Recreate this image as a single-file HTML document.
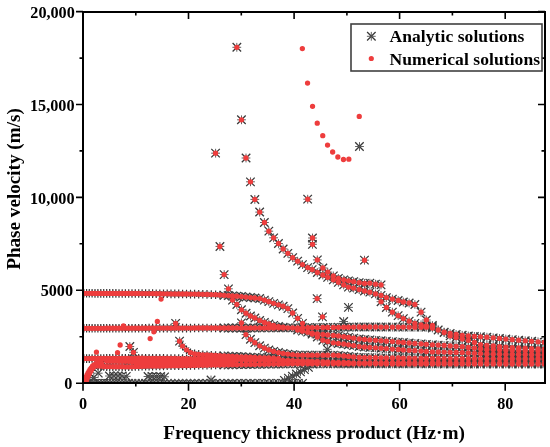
<!DOCTYPE html>
<html><head><meta charset="utf-8"><style>
html,body{margin:0;padding:0;background:#fff;width:550px;height:447px;overflow:hidden}
svg{display:block}
</style></head><body>
<svg width="550" height="447" viewBox="0 0 550 447"><defs><clipPath id="c"><rect x="84" y="13" width="460" height="370"/></clipPath></defs><g clip-path="url(#c)"><path d="M219.9 291.1l8.5 8.5M219.9 299.6l8.5 -8.5M224.2 291.4l8.5 8.5M224.2 299.9l8.5 -8.5M228.3 291.6l8.5 8.5M228.3 300.1l8.5 -8.5M232.6 291.9l8.5 8.5M232.6 300.4l8.5 -8.5M237.2 292.3l8.5 8.5M237.2 300.8l8.5 -8.5M241.8 292.8l8.5 8.5M241.8 301.3l8.5 -8.5M246.2 293.3l8.5 8.5M246.2 301.8l8.5 -8.5M250.6 293.8l8.5 8.5M250.6 302.3l8.5 -8.5M255.4 294.3l8.5 8.5M255.4 302.8l8.5 -8.5M260.1 295.9l8.5 8.5M260.1 304.4l8.5 -8.5M264.6 297.4l8.5 8.5M264.6 305.9l8.5 -8.5M269.4 299.1l8.5 8.5M269.4 307.6l8.5 -8.5M274.2 300.6l8.5 8.5M274.2 309.1l8.5 -8.5M278.9 302.0l8.5 8.5M278.9 310.5l8.5 -8.5M283.6 304.4l8.5 8.5M283.6 312.9l8.5 -8.5M288.4 308.8l8.5 8.5M288.4 317.3l8.5 -8.5M293.4 314.1l8.5 8.5M293.4 322.6l8.5 -8.5M298.2 319.1l8.5 8.5M298.2 327.6l8.5 -8.5M219.9 323.7l8.5 8.5M219.9 332.2l8.5 -8.5M224.2 323.7l8.5 8.5M224.2 332.2l8.5 -8.5M228.3 323.7l8.5 8.5M228.3 332.2l8.5 -8.5M232.6 323.7l8.5 8.5M232.6 332.2l8.5 -8.5M237.2 323.7l8.5 8.5M237.2 332.2l8.5 -8.5M241.8 323.7l8.5 8.5M241.8 332.2l8.5 -8.5M246.2 323.7l8.5 8.5M246.2 332.2l8.5 -8.5M250.6 323.7l8.5 8.5M250.6 332.2l8.5 -8.5M255.4 323.6l8.5 8.5M255.4 332.1l8.5 -8.5M260.1 323.6l8.5 8.5M260.1 332.1l8.5 -8.5M264.6 323.6l8.5 8.5M264.6 332.1l8.5 -8.5M269.4 323.6l8.5 8.5M269.4 332.1l8.5 -8.5M274.2 323.6l8.5 8.5M274.2 332.1l8.5 -8.5M278.9 323.6l8.5 8.5M278.9 332.1l8.5 -8.5M283.6 323.6l8.5 8.5M283.6 332.1l8.5 -8.5M288.4 323.6l8.5 8.5M288.4 332.1l8.5 -8.5M293.4 323.6l8.5 8.5M293.4 332.1l8.5 -8.5M298.2 323.5l8.5 8.5M298.2 332.0l8.5 -8.5M303.4 323.4l8.5 8.5M303.4 331.9l8.5 -8.5M307.9 323.4l8.5 8.5M307.9 331.9l8.5 -8.5M313.1 323.3l8.5 8.5M313.1 331.8l8.5 -8.5M318.6 323.2l8.5 8.5M318.6 331.7l8.5 -8.5M323.4 323.2l8.5 8.5M323.4 331.7l8.5 -8.5M329.1 323.1l8.5 8.5M329.1 331.6l8.5 -8.5M334.1 323.0l8.5 8.5M334.1 331.5l8.5 -8.5M339.4 323.0l8.5 8.5M339.4 331.5l8.5 -8.5M344.2 322.9l8.5 8.5M344.2 331.4l8.5 -8.5M349.4 322.8l8.5 8.5M349.4 331.3l8.5 -8.5M354.9 322.8l8.5 8.5M354.9 331.3l8.5 -8.5M360.2 322.8l8.5 8.5M360.2 331.3l8.5 -8.5M365.6 322.8l8.5 8.5M365.6 331.3l8.5 -8.5M371.2 322.8l8.5 8.5M371.2 331.3l8.5 -8.5M376.8 322.8l8.5 8.5M376.8 331.3l8.5 -8.5M382.1 322.8l8.5 8.5M382.1 331.3l8.5 -8.5M388.1 322.8l8.5 8.5M388.1 331.3l8.5 -8.5M393.9 322.9l8.5 8.5M393.9 331.4l8.5 -8.5M399.1 322.9l8.5 8.5M399.1 331.4l8.5 -8.5M404.9 322.9l8.5 8.5M404.9 331.4l8.5 -8.5M410.6 322.9l8.5 8.5M410.6 331.4l8.5 -8.5M416.8 322.9l8.5 8.5M416.8 331.4l8.5 -8.5M422.1 322.9l8.5 8.5M422.1 331.4l8.5 -8.5M428.1 323.8l8.5 8.5M428.1 332.3l8.5 -8.5M433.9 325.8l8.5 8.5M433.9 334.3l8.5 -8.5M439.9 327.9l8.5 8.5M439.9 336.4l8.5 -8.5M445.9 329.3l8.5 8.5M445.9 337.8l8.5 -8.5M451.9 330.3l8.5 8.5M451.9 338.8l8.5 -8.5M457.9 331.0l8.5 8.5M457.9 339.5l8.5 -8.5M464.1 331.8l8.5 8.5M464.1 340.3l8.5 -8.5M470.1 332.2l8.5 8.5M470.1 340.7l8.5 -8.5M476.2 332.5l8.5 8.5M476.2 341.0l8.5 -8.5M482.6 332.9l8.5 8.5M482.6 341.4l8.5 -8.5M488.9 333.6l8.5 8.5M488.9 342.1l8.5 -8.5M495.2 334.2l8.5 8.5M495.2 342.7l8.5 -8.5M501.6 334.8l8.5 8.5M501.6 343.3l8.5 -8.5M508.0 335.4l8.5 8.5M508.0 343.9l8.5 -8.5M514.4 336.0l8.5 8.5M514.4 344.5l8.5 -8.5M521.0 336.5l8.5 8.5M521.0 345.0l8.5 -8.5M527.4 337.0l8.5 8.5M527.4 345.5l8.5 -8.5M533.8 337.6l8.5 8.5M533.8 346.1l8.5 -8.5M540.0 338.1l8.5 8.5M540.0 346.6l8.5 -8.5M228.3 295.9l8.5 8.5M228.3 304.4l8.5 -8.5M232.6 300.2l8.5 8.5M232.6 308.7l8.5 -8.5M237.2 305.5l8.5 8.5M237.2 314.0l8.5 -8.5M241.8 309.0l8.5 8.5M241.8 317.5l8.5 -8.5M246.2 311.8l8.5 8.5M246.2 320.2l8.5 -8.5M250.6 313.7l8.5 8.5M250.6 322.2l8.5 -8.5M255.4 316.2l8.5 8.5M255.4 324.7l8.5 -8.5M260.1 318.1l8.5 8.5M260.1 326.6l8.5 -8.5M264.6 319.8l8.5 8.5M264.6 328.3l8.5 -8.5M269.4 321.1l8.5 8.5M269.4 329.6l8.5 -8.5M274.2 322.3l8.5 8.5M274.2 330.8l8.5 -8.5M278.9 323.0l8.5 8.5M278.9 331.5l8.5 -8.5M241.8 330.4l8.5 8.5M241.8 338.9l8.5 -8.5M246.2 335.0l8.5 8.5M246.2 343.5l8.5 -8.5M250.6 338.4l8.5 8.5M250.6 346.9l8.5 -8.5M255.4 341.5l8.5 8.5M255.4 350.0l8.5 -8.5M260.1 343.9l8.5 8.5M260.1 352.4l8.5 -8.5M264.6 345.7l8.5 8.5M264.6 354.2l8.5 -8.5M269.4 347.1l8.5 8.5M269.4 355.6l8.5 -8.5M274.2 348.3l8.5 8.5M274.2 356.8l8.5 -8.5M278.9 349.2l8.5 8.5M278.9 357.7l8.5 -8.5M283.6 349.9l8.5 8.5M283.6 358.4l8.5 -8.5M288.4 350.4l8.5 8.5M288.4 358.9l8.5 -8.5M293.4 350.9l8.5 8.5M293.4 359.4l8.5 -8.5M298.2 350.9l8.5 8.5M298.2 359.4l8.5 -8.5M303.4 350.9l8.5 8.5M303.4 359.4l8.5 -8.5M307.9 350.9l8.5 8.5M307.9 359.4l8.5 -8.5M313.1 350.9l8.5 8.5M313.1 359.4l8.5 -8.5M318.6 350.9l8.5 8.5M318.6 359.4l8.5 -8.5M323.4 350.9l8.5 8.5M323.4 359.4l8.5 -8.5M329.1 350.9l8.5 8.5M329.1 359.4l8.5 -8.5M334.1 351.3l8.5 8.5M334.1 359.8l8.5 -8.5M339.4 351.8l8.5 8.5M339.4 360.3l8.5 -8.5M344.2 352.2l8.5 8.5M344.2 360.7l8.5 -8.5M349.4 352.7l8.5 8.5M349.4 361.2l8.5 -8.5M354.9 353.2l8.5 8.5M354.9 361.7l8.5 -8.5M360.2 353.3l8.5 8.5M360.2 361.8l8.5 -8.5M365.6 353.4l8.5 8.5M365.6 361.9l8.5 -8.5M371.2 353.5l8.5 8.5M371.2 362.0l8.5 -8.5M376.8 353.6l8.5 8.5M376.8 362.1l8.5 -8.5M382.1 353.6l8.5 8.5M382.1 362.1l8.5 -8.5M388.1 353.7l8.5 8.5M388.1 362.2l8.5 -8.5M393.9 353.8l8.5 8.5M393.9 362.3l8.5 -8.5M399.1 353.9l8.5 8.5M399.1 362.4l8.5 -8.5M404.9 354.0l8.5 8.5M404.9 362.5l8.5 -8.5M410.6 354.0l8.5 8.5M410.6 362.5l8.5 -8.5M416.8 354.1l8.5 8.5M416.8 362.6l8.5 -8.5M422.1 354.2l8.5 8.5M422.1 362.7l8.5 -8.5M428.1 354.3l8.5 8.5M428.1 362.8l8.5 -8.5M433.9 354.3l8.5 8.5M433.9 362.8l8.5 -8.5M439.9 354.3l8.5 8.5M439.9 362.8l8.5 -8.5M445.9 354.4l8.5 8.5M445.9 362.9l8.5 -8.5M451.9 354.4l8.5 8.5M451.9 362.9l8.5 -8.5M457.9 354.4l8.5 8.5M457.9 362.9l8.5 -8.5M464.1 354.5l8.5 8.5M464.1 363.0l8.5 -8.5M470.1 354.5l8.5 8.5M470.1 363.0l8.5 -8.5M476.2 354.5l8.5 8.5M476.2 363.0l8.5 -8.5M482.6 354.5l8.5 8.5M482.6 363.0l8.5 -8.5M488.9 354.6l8.5 8.5M488.9 363.1l8.5 -8.5M495.2 354.6l8.5 8.5M495.2 363.1l8.5 -8.5M501.6 354.6l8.5 8.5M501.6 363.1l8.5 -8.5M508.0 354.6l8.5 8.5M508.0 363.1l8.5 -8.5M514.4 354.7l8.5 8.5M514.4 363.2l8.5 -8.5M521.0 354.7l8.5 8.5M521.0 363.2l8.5 -8.5M527.4 354.7l8.5 8.5M527.4 363.2l8.5 -8.5M533.8 354.7l8.5 8.5M533.8 363.2l8.5 -8.5M540.0 354.7l8.5 8.5M540.0 363.2l8.5 -8.5M293.4 325.7l8.5 8.5M293.4 334.2l8.5 -8.5M298.2 326.9l8.5 8.5M298.2 335.4l8.5 -8.5M303.4 327.9l8.5 8.5M303.4 336.4l8.5 -8.5M307.9 328.8l8.5 8.5M307.9 337.3l8.5 -8.5M313.1 329.7l8.5 8.5M313.1 338.2l8.5 -8.5M318.6 330.2l8.5 8.5M318.6 338.7l8.5 -8.5M323.4 330.6l8.5 8.5M323.4 339.1l8.5 -8.5M329.1 331.1l8.5 8.5M329.1 339.6l8.5 -8.5M334.1 331.6l8.5 8.5M334.1 340.1l8.5 -8.5M339.4 332.4l8.5 8.5M339.4 340.9l8.5 -8.5M344.2 333.1l8.5 8.5M344.2 341.6l8.5 -8.5M349.4 333.9l8.5 8.5M349.4 342.4l8.5 -8.5M354.9 334.7l8.5 8.5M354.9 343.2l8.5 -8.5M360.2 335.2l8.5 8.5M360.2 343.7l8.5 -8.5M365.6 335.6l8.5 8.5M365.6 344.1l8.5 -8.5M371.2 336.1l8.5 8.5M371.2 344.6l8.5 -8.5M376.8 336.5l8.5 8.5M376.8 345.0l8.5 -8.5M382.1 336.9l8.5 8.5M382.1 345.4l8.5 -8.5M388.1 337.4l8.5 8.5M388.1 345.9l8.5 -8.5M393.9 337.9l8.5 8.5M393.9 346.4l8.5 -8.5M399.1 338.3l8.5 8.5M399.1 346.8l8.5 -8.5M404.9 338.7l8.5 8.5M404.9 347.2l8.5 -8.5M410.6 339.2l8.5 8.5M410.6 347.7l8.5 -8.5M416.8 339.6l8.5 8.5M416.8 348.1l8.5 -8.5M422.1 340.1l8.5 8.5M422.1 348.6l8.5 -8.5M428.1 340.5l8.5 8.5M428.1 349.0l8.5 -8.5M433.9 340.9l8.5 8.5M433.9 349.4l8.5 -8.5M439.9 341.2l8.5 8.5M439.9 349.7l8.5 -8.5M445.9 341.6l8.5 8.5M445.9 350.1l8.5 -8.5M451.9 342.0l8.5 8.5M451.9 350.5l8.5 -8.5M457.9 342.5l8.5 8.5M457.9 351.0l8.5 -8.5M464.1 343.2l8.5 8.5M464.1 351.7l8.5 -8.5M470.1 343.9l8.5 8.5M470.1 352.4l8.5 -8.5M476.2 344.5l8.5 8.5M476.2 353.0l8.5 -8.5M482.6 345.2l8.5 8.5M482.6 353.7l8.5 -8.5M488.9 345.4l8.5 8.5M488.9 353.9l8.5 -8.5M495.2 345.5l8.5 8.5M495.2 354.0l8.5 -8.5M501.6 345.7l8.5 8.5M501.6 354.2l8.5 -8.5M508.0 345.9l8.5 8.5M508.0 354.4l8.5 -8.5M514.4 346.0l8.5 8.5M514.4 354.5l8.5 -8.5M521.0 346.2l8.5 8.5M521.0 354.7l8.5 -8.5M527.4 346.3l8.5 8.5M527.4 354.8l8.5 -8.5M533.8 346.5l8.5 8.5M533.8 355.0l8.5 -8.5M540.0 346.6l8.5 8.5M540.0 355.1l8.5 -8.5M307.9 329.9l8.5 8.5M307.9 338.4l8.5 -8.5M313.1 332.7l8.5 8.5M313.1 341.2l8.5 -8.5M318.6 336.0l8.5 8.5M318.6 344.5l8.5 -8.5M323.4 337.2l8.5 8.5M323.4 345.7l8.5 -8.5M329.1 338.6l8.5 8.5M329.1 347.1l8.5 -8.5M334.1 339.2l8.5 8.5M334.1 347.7l8.5 -8.5M339.4 339.8l8.5 8.5M339.4 348.3l8.5 -8.5M344.2 340.5l8.5 8.5M344.2 349.0l8.5 -8.5M349.4 341.4l8.5 8.5M349.4 349.9l8.5 -8.5M354.9 342.3l8.5 8.5M354.9 350.8l8.5 -8.5M360.2 342.8l8.5 8.5M360.2 351.3l8.5 -8.5M365.6 343.2l8.5 8.5M365.6 351.7l8.5 -8.5M371.2 343.6l8.5 8.5M371.2 352.1l8.5 -8.5M376.8 344.0l8.5 8.5M376.8 352.5l8.5 -8.5M382.1 344.4l8.5 8.5M382.1 352.9l8.5 -8.5M388.1 344.8l8.5 8.5M388.1 353.3l8.5 -8.5M393.9 345.2l8.5 8.5M393.9 353.7l8.5 -8.5M399.1 345.6l8.5 8.5M399.1 354.1l8.5 -8.5M404.9 346.0l8.5 8.5M404.9 354.5l8.5 -8.5M410.6 346.4l8.5 8.5M410.6 354.9l8.5 -8.5M416.8 346.9l8.5 8.5M416.8 355.4l8.5 -8.5M422.1 347.3l8.5 8.5M422.1 355.8l8.5 -8.5M428.1 347.6l8.5 8.5M428.1 356.1l8.5 -8.5M433.9 347.7l8.5 8.5M433.9 356.2l8.5 -8.5M439.9 347.9l8.5 8.5M439.9 356.4l8.5 -8.5M445.9 348.0l8.5 8.5M445.9 356.5l8.5 -8.5M451.9 348.2l8.5 8.5M451.9 356.7l8.5 -8.5M457.9 348.4l8.5 8.5M457.9 356.9l8.5 -8.5M464.1 348.7l8.5 8.5M464.1 357.2l8.5 -8.5M470.1 349.1l8.5 8.5M470.1 357.6l8.5 -8.5M476.2 349.4l8.5 8.5M476.2 357.9l8.5 -8.5M482.6 349.7l8.5 8.5M482.6 358.2l8.5 -8.5M488.9 349.8l8.5 8.5M488.9 358.3l8.5 -8.5M495.2 349.9l8.5 8.5M495.2 358.4l8.5 -8.5M501.6 350.0l8.5 8.5M501.6 358.5l8.5 -8.5M508.0 350.1l8.5 8.5M508.0 358.6l8.5 -8.5M514.4 350.3l8.5 8.5M514.4 358.8l8.5 -8.5M521.0 350.4l8.5 8.5M521.0 358.9l8.5 -8.5M527.4 350.5l8.5 8.5M527.4 359.0l8.5 -8.5M533.8 350.6l8.5 8.5M533.8 359.1l8.5 -8.5M540.0 350.7l8.5 8.5M540.0 359.2l8.5 -8.5M219.9 355.2l8.5 8.5M219.9 363.7l8.5 -8.5M224.2 355.3l8.5 8.5M224.2 363.8l8.5 -8.5M228.3 355.4l8.5 8.5M228.3 363.9l8.5 -8.5M232.6 355.5l8.5 8.5M232.6 364.0l8.5 -8.5M237.2 355.6l8.5 8.5M237.2 364.1l8.5 -8.5M241.8 355.6l8.5 8.5M241.8 364.1l8.5 -8.5M246.2 355.7l8.5 8.5M246.2 364.2l8.5 -8.5M250.6 355.8l8.5 8.5M250.6 364.3l8.5 -8.5M255.4 355.8l8.5 8.5M255.4 364.3l8.5 -8.5M260.1 355.9l8.5 8.5M260.1 364.4l8.5 -8.5M264.6 356.0l8.5 8.5M264.6 364.5l8.5 -8.5M269.4 356.0l8.5 8.5M269.4 364.5l8.5 -8.5M274.2 356.1l8.5 8.5M274.2 364.6l8.5 -8.5M278.9 356.2l8.5 8.5M278.9 364.7l8.5 -8.5M283.6 356.2l8.5 8.5M283.6 364.7l8.5 -8.5M288.4 356.3l8.5 8.5M288.4 364.8l8.5 -8.5M293.4 356.5l8.5 8.5M293.4 365.0l8.5 -8.5M298.2 356.7l8.5 8.5M298.2 365.2l8.5 -8.5M303.4 356.9l8.5 8.5M303.4 365.4l8.5 -8.5M307.9 357.1l8.5 8.5M307.9 365.6l8.5 -8.5M313.1 357.3l8.5 8.5M313.1 365.8l8.5 -8.5M318.6 357.5l8.5 8.5M318.6 366.0l8.5 -8.5M323.4 357.7l8.5 8.5M323.4 366.2l8.5 -8.5M329.1 357.9l8.5 8.5M329.1 366.4l8.5 -8.5M334.1 358.0l8.5 8.5M334.1 366.5l8.5 -8.5M339.4 358.2l8.5 8.5M339.4 366.7l8.5 -8.5M344.2 358.4l8.5 8.5M344.2 366.9l8.5 -8.5M349.4 358.5l8.5 8.5M349.4 367.0l8.5 -8.5M354.9 358.7l8.5 8.5M354.9 367.2l8.5 -8.5M360.2 358.8l8.5 8.5M360.2 367.2l8.5 -8.5M365.6 358.8l8.5 8.5M365.6 367.2l8.5 -8.5M371.2 358.8l8.5 8.5M371.2 367.2l8.5 -8.5M376.8 358.8l8.5 8.5M376.8 367.2l8.5 -8.5M382.1 358.8l8.5 8.5M382.1 367.2l8.5 -8.5M388.1 358.8l8.5 8.5M388.1 367.2l8.5 -8.5M393.9 358.8l8.5 8.5M393.9 367.2l8.5 -8.5M399.1 358.8l8.5 8.5M399.1 367.2l8.5 -8.5M404.9 358.8l8.5 8.5M404.9 367.2l8.5 -8.5M410.6 358.8l8.5 8.5M410.6 367.2l8.5 -8.5M416.8 358.8l8.5 8.5M416.8 367.2l8.5 -8.5M422.1 358.8l8.5 8.5M422.1 367.2l8.5 -8.5M428.1 358.8l8.5 8.5M428.1 367.3l8.5 -8.5M433.9 358.8l8.5 8.5M433.9 367.3l8.5 -8.5M439.9 358.8l8.5 8.5M439.9 367.3l8.5 -8.5M445.9 358.8l8.5 8.5M445.9 367.3l8.5 -8.5M451.9 358.8l8.5 8.5M451.9 367.3l8.5 -8.5M457.9 358.8l8.5 8.5M457.9 367.3l8.5 -8.5M464.1 358.8l8.5 8.5M464.1 367.3l8.5 -8.5M470.1 358.9l8.5 8.5M470.1 367.4l8.5 -8.5M476.2 358.9l8.5 8.5M476.2 367.4l8.5 -8.5M482.6 358.9l8.5 8.5M482.6 367.4l8.5 -8.5M488.9 358.9l8.5 8.5M488.9 367.4l8.5 -8.5M495.2 358.9l8.5 8.5M495.2 367.4l8.5 -8.5M501.6 358.9l8.5 8.5M501.6 367.4l8.5 -8.5M508.0 359.0l8.5 8.5M508.0 367.5l8.5 -8.5M514.4 359.0l8.5 8.5M514.4 367.5l8.5 -8.5M521.0 359.0l8.5 8.5M521.0 367.5l8.5 -8.5M527.4 359.0l8.5 8.5M527.4 367.5l8.5 -8.5M533.8 359.0l8.5 8.5M533.8 367.5l8.5 -8.5M540.0 359.0l8.5 8.5M540.0 367.5l8.5 -8.5M219.9 360.6l8.5 8.5M219.9 369.1l8.5 -8.5M224.2 360.6l8.5 8.5M224.2 369.1l8.5 -8.5M228.3 360.5l8.5 8.5M228.3 369.0l8.5 -8.5M232.6 360.4l8.5 8.5M232.6 368.9l8.5 -8.5M237.2 360.3l8.5 8.5M237.2 368.8l8.5 -8.5M241.8 360.3l8.5 8.5M241.8 368.8l8.5 -8.5M246.2 360.2l8.5 8.5M246.2 368.7l8.5 -8.5M250.6 360.1l8.5 8.5M250.6 368.6l8.5 -8.5M255.4 360.0l8.5 8.5M255.4 368.5l8.5 -8.5M260.1 360.0l8.5 8.5M260.1 368.5l8.5 -8.5M264.6 359.9l8.5 8.5M264.6 368.4l8.5 -8.5M269.4 359.8l8.5 8.5M269.4 368.3l8.5 -8.5M274.2 359.7l8.5 8.5M274.2 368.2l8.5 -8.5M278.9 359.7l8.5 8.5M278.9 368.2l8.5 -8.5M283.6 359.6l8.5 8.5M283.6 368.1l8.5 -8.5M288.4 359.6l8.5 8.5M288.4 368.1l8.5 -8.5M293.4 359.6l8.5 8.5M293.4 368.1l8.5 -8.5M298.2 359.6l8.5 8.5M298.2 368.1l8.5 -8.5M303.4 359.6l8.5 8.5M303.4 368.1l8.5 -8.5M307.9 359.6l8.5 8.5M307.9 368.1l8.5 -8.5M313.1 359.6l8.5 8.5M313.1 368.1l8.5 -8.5M318.6 359.6l8.5 8.5M318.6 368.1l8.5 -8.5M323.4 359.6l8.5 8.5M323.4 368.1l8.5 -8.5M329.1 359.6l8.5 8.5M329.1 368.1l8.5 -8.5M334.1 359.6l8.5 8.5M334.1 368.1l8.5 -8.5M339.4 359.6l8.5 8.5M339.4 368.1l8.5 -8.5M344.2 359.6l8.5 8.5M344.2 368.1l8.5 -8.5M349.4 359.6l8.5 8.5M349.4 368.1l8.5 -8.5M354.9 359.6l8.5 8.5M354.9 368.1l8.5 -8.5M360.2 359.6l8.5 8.5M360.2 368.1l8.5 -8.5M365.6 359.6l8.5 8.5M365.6 368.1l8.5 -8.5M371.2 359.6l8.5 8.5M371.2 368.1l8.5 -8.5M376.8 359.6l8.5 8.5M376.8 368.1l8.5 -8.5M382.1 359.6l8.5 8.5M382.1 368.1l8.5 -8.5M388.1 359.6l8.5 8.5M388.1 368.1l8.5 -8.5M393.9 359.6l8.5 8.5M393.9 368.1l8.5 -8.5M399.1 359.6l8.5 8.5M399.1 368.1l8.5 -8.5M404.9 359.6l8.5 8.5M404.9 368.1l8.5 -8.5M410.6 359.6l8.5 8.5M410.6 368.1l8.5 -8.5M416.8 359.6l8.5 8.5M416.8 368.1l8.5 -8.5M422.1 359.6l8.5 8.5M422.1 368.1l8.5 -8.5M428.1 359.6l8.5 8.5M428.1 368.1l8.5 -8.5M433.9 359.6l8.5 8.5M433.9 368.1l8.5 -8.5M439.9 359.7l8.5 8.5M439.9 368.2l8.5 -8.5M445.9 359.7l8.5 8.5M445.9 368.2l8.5 -8.5M451.9 359.7l8.5 8.5M451.9 368.2l8.5 -8.5M457.9 359.7l8.5 8.5M457.9 368.2l8.5 -8.5M464.1 359.7l8.5 8.5M464.1 368.2l8.5 -8.5M470.1 359.7l8.5 8.5M470.1 368.2l8.5 -8.5M476.2 359.7l8.5 8.5M476.2 368.2l8.5 -8.5M482.6 359.7l8.5 8.5M482.6 368.2l8.5 -8.5M488.9 359.7l8.5 8.5M488.9 368.2l8.5 -8.5M495.2 359.7l8.5 8.5M495.2 368.2l8.5 -8.5M501.6 359.7l8.5 8.5M501.6 368.2l8.5 -8.5M508.0 359.7l8.5 8.5M508.0 368.2l8.5 -8.5M514.4 359.7l8.5 8.5M514.4 368.2l8.5 -8.5M521.0 359.7l8.5 8.5M521.0 368.2l8.5 -8.5M527.4 359.7l8.5 8.5M527.4 368.2l8.5 -8.5M533.8 359.7l8.5 8.5M533.8 368.2l8.5 -8.5M540.0 359.7l8.5 8.5M540.0 368.2l8.5 -8.5M219.9 357.9l8.5 8.5M219.9 366.4l8.5 -8.5M224.2 357.9l8.5 8.5M224.2 366.4l8.5 -8.5M228.3 357.9l8.5 8.5M228.3 366.4l8.5 -8.5M219.9 351.7l8.5 8.5M219.9 360.2l8.5 -8.5M224.2 351.9l8.5 8.5M224.2 360.4l8.5 -8.5M228.3 352.1l8.5 8.5M228.3 360.6l8.5 -8.5M232.6 352.3l8.5 8.5M232.6 360.8l8.5 -8.5M237.2 352.5l8.5 8.5M237.2 361.0l8.5 -8.5M241.8 352.8l8.5 8.5M241.8 361.3l8.5 -8.5M246.2 353.0l8.5 8.5M246.2 361.5l8.5 -8.5M250.6 353.2l8.5 8.5M250.6 361.7l8.5 -8.5M255.4 353.4l8.5 8.5M255.4 361.9l8.5 -8.5M260.1 353.6l8.5 8.5M260.1 362.1l8.5 -8.5M264.6 353.8l8.5 8.5M264.6 362.3l8.5 -8.5M269.4 354.0l8.5 8.5M269.4 362.5l8.5 -8.5M274.2 354.2l8.5 8.5M274.2 362.7l8.5 -8.5M288.4 253.4l8.5 8.5M288.4 261.9l8.5 -8.5M293.4 256.9l8.5 8.5M293.4 265.4l8.5 -8.5M298.2 260.4l8.5 8.5M298.2 268.9l8.5 -8.5M303.4 263.4l8.5 8.5M303.4 271.9l8.5 -8.5M307.9 265.4l8.5 8.5M307.9 273.9l8.5 -8.5M313.1 268.2l8.5 8.5M313.1 276.8l8.5 -8.5M318.6 270.8l8.5 8.5M318.6 279.2l8.5 -8.5M323.4 273.1l8.5 8.5M323.4 281.6l8.5 -8.5M329.1 275.6l8.5 8.5M329.1 284.1l8.5 -8.5M334.1 278.1l8.5 8.5M334.1 286.6l8.5 -8.5M339.4 280.6l8.5 8.5M339.4 289.1l8.5 -8.5M344.2 282.9l8.5 8.5M344.2 291.4l8.5 -8.5M349.4 283.9l8.5 8.5M349.4 292.4l8.5 -8.5M354.9 285.4l8.5 8.5M354.9 293.9l8.5 -8.5M360.2 286.8l8.5 8.5M360.2 295.2l8.5 -8.5M365.6 287.9l8.5 8.5M365.6 296.4l8.5 -8.5M371.2 289.6l8.5 8.5M371.2 298.1l8.5 -8.5M376.8 291.1l8.5 8.5M376.8 299.6l8.5 -8.5M382.1 293.4l8.5 8.5M382.1 301.9l8.5 -8.5M388.1 294.9l8.5 8.5M388.1 303.4l8.5 -8.5M393.9 296.2l8.5 8.5M393.9 304.8l8.5 -8.5M399.1 297.8l8.5 8.5M399.1 306.2l8.5 -8.5M404.9 298.8l8.5 8.5M404.9 307.2l8.5 -8.5M410.6 300.2l8.5 8.5M410.6 308.8l8.5 -8.5M416.8 307.9l8.5 8.5M416.8 316.4l8.5 -8.5M422.1 315.8l8.5 8.5M422.1 324.2l8.5 -8.5M428.1 321.2l8.5 8.5M428.1 329.8l8.5 -8.5M433.9 325.6l8.5 8.5M433.9 334.1l8.5 -8.5M439.9 328.2l8.5 8.5M439.9 336.8l8.5 -8.5M445.9 331.6l8.5 8.5M445.9 340.1l8.5 -8.5M451.9 333.2l8.5 8.5M451.9 341.8l8.5 -8.5M457.9 334.8l8.5 8.5M457.9 343.2l8.5 -8.5M464.1 336.1l8.5 8.5M464.1 344.6l8.5 -8.5M470.1 338.2l8.5 8.5M470.1 346.8l8.5 -8.5M476.2 340.4l8.5 8.5M476.2 348.9l8.5 -8.5M482.6 341.2l8.5 8.5M482.6 349.8l8.5 -8.5M488.9 341.8l8.5 8.5M488.9 350.3l8.5 -8.5M495.2 342.3l8.5 8.5M495.2 350.8l8.5 -8.5M501.6 342.9l8.5 8.5M501.6 351.4l8.5 -8.5M508.0 343.4l8.5 8.5M508.0 351.9l8.5 -8.5M514.4 343.7l8.5 8.5M514.4 352.2l8.5 -8.5M521.0 344.0l8.5 8.5M521.0 352.5l8.5 -8.5M527.4 344.3l8.5 8.5M527.4 352.8l8.5 -8.5M533.8 344.6l8.5 8.5M533.8 353.1l8.5 -8.5M540.0 344.9l8.5 8.5M540.0 353.4l8.5 -8.5M546.2 345.2l8.5 8.5M546.2 353.7l8.5 -8.5M318.6 263.8l8.5 8.5M318.6 272.3l8.5 -8.5M323.4 267.9l8.5 8.5M323.4 276.4l8.5 -8.5M329.1 271.6l8.5 8.5M329.1 280.1l8.5 -8.5M334.1 274.1l8.5 8.5M334.1 282.6l8.5 -8.5M339.4 275.6l8.5 8.5M339.4 284.1l8.5 -8.5M344.2 276.6l8.5 8.5M344.2 285.1l8.5 -8.5M349.4 277.4l8.5 8.5M349.4 285.9l8.5 -8.5M354.9 278.4l8.5 8.5M354.9 286.9l8.5 -8.5M360.2 279.2l8.5 8.5M360.2 287.8l8.5 -8.5M365.6 278.9l8.5 8.5M365.6 287.4l8.5 -8.5M371.2 279.9l8.5 8.5M371.2 288.4l8.5 -8.5M376.8 280.6l8.5 8.5M376.8 289.1l8.5 -8.5M376.8 297.5l8.5 8.5M376.8 306.0l8.5 -8.5M382.1 303.2l8.5 8.5M382.1 311.8l8.5 -8.5M388.1 307.9l8.5 8.5M388.1 316.4l8.5 -8.5M393.9 311.4l8.5 8.5M393.9 319.9l8.5 -8.5M399.1 314.4l8.5 8.5M399.1 322.9l8.5 -8.5M404.9 316.9l8.5 8.5M404.9 325.4l8.5 -8.5M410.6 319.1l8.5 8.5M410.6 327.6l8.5 -8.5M416.8 320.6l8.5 8.5M416.8 329.1l8.5 -8.5M422.1 321.8l8.5 8.5M422.1 330.2l8.5 -8.5M428.1 322.5l8.5 8.5M428.1 331.0l8.5 -8.5M232.6 43.0l8.5 8.5M232.6 51.5l8.5 -8.5M237.2 115.5l8.5 8.5M237.2 124.0l8.5 -8.5M241.8 153.8l8.5 8.5M241.8 162.2l8.5 -8.5M246.2 177.6l8.5 8.5M246.2 186.1l8.5 -8.5M250.6 195.2l8.5 8.5M250.6 203.7l8.5 -8.5M255.4 207.8l8.5 8.5M255.4 216.3l8.5 -8.5M260.1 218.2l8.5 8.5M260.1 226.8l8.5 -8.5M264.6 226.9l8.5 8.5M264.6 235.4l8.5 -8.5M269.4 233.6l8.5 8.5M269.4 242.1l8.5 -8.5M274.2 239.2l8.5 8.5M274.2 247.8l8.5 -8.5M278.9 244.7l8.5 8.5M278.9 253.2l8.5 -8.5M283.6 249.1l8.5 8.5M283.6 257.6l8.5 -8.5M211.3 148.9l8.5 8.5M211.3 157.4l8.5 -8.5M215.7 242.2l8.5 8.5M215.7 250.7l8.5 -8.5M219.9 270.4l8.5 8.5M219.9 278.9l8.5 -8.5M224.2 284.6l8.5 8.5M224.2 293.1l8.5 -8.5M303.4 194.9l8.5 8.5M303.4 203.4l8.5 -8.5M308.2 233.8l8.5 8.5M308.2 242.2l8.5 -8.5M308.2 240.1l8.5 8.5M308.2 248.6l8.5 -8.5M313.1 255.6l8.5 8.5M313.1 264.1l8.5 -8.5M360.2 255.9l8.5 8.5M360.2 264.4l8.5 -8.5M312.9 294.4l8.5 8.5M312.9 302.9l8.5 -8.5M318.2 312.6l8.5 8.5M318.2 321.1l8.5 -8.5M171.4 319.1l8.5 8.5M171.4 327.6l8.5 -8.5M175.3 336.9l8.5 8.5M175.3 345.4l8.5 -8.5M125.6 342.2l8.5 8.5M125.6 350.8l8.5 -8.5M129.2 348.1l8.5 8.5M129.2 356.6l8.5 -8.5M355.2 142.2l8.5 8.5M355.2 150.8l8.5 -8.5M344.2 303.1l8.5 8.5M344.2 311.6l8.5 -8.5M85.8 377.2l8.5 8.5M85.8 385.8l8.5 -8.5M89.5 373.2l8.5 8.5M89.5 381.8l8.5 -8.5M94.0 368.9l8.5 8.5M94.0 377.4l8.5 -8.5M105.2 371.8l8.5 8.5M105.2 380.2l8.5 -8.5M109.5 371.6l8.5 8.5M109.5 380.1l8.5 -8.5M113.7 371.6l8.5 8.5M113.7 380.1l8.5 -8.5M117.8 371.8l8.5 8.5M117.8 380.2l8.5 -8.5M122.0 372.1l8.5 8.5M122.0 380.6l8.5 -8.5M143.8 372.2l8.5 8.5M143.8 380.8l8.5 -8.5M147.9 372.2l8.5 8.5M147.9 380.8l8.5 -8.5M152.2 372.2l8.5 8.5M152.2 380.8l8.5 -8.5M156.3 372.2l8.5 8.5M156.3 380.8l8.5 -8.5M160.3 372.6l8.5 8.5M160.3 381.1l8.5 -8.5M206.8 375.8l8.5 8.5M206.8 384.2l8.5 -8.5M79.6 379.1l8.5 8.5M79.6 387.6l8.5 -8.5M82.3 379.1l8.5 8.5M82.3 387.6l8.5 -8.5M85.1 379.1l8.5 8.5M85.1 387.6l8.5 -8.5M87.9 379.1l8.5 8.5M87.9 387.6l8.5 -8.5M90.7 379.1l8.5 8.5M90.7 387.6l8.5 -8.5M93.6 379.1l8.5 8.5M93.6 387.6l8.5 -8.5M96.5 379.1l8.5 8.5M96.5 387.6l8.5 -8.5M99.5 379.1l8.5 8.5M99.5 387.6l8.5 -8.5M102.5 379.1l8.5 8.5M102.5 387.6l8.5 -8.5M105.5 379.1l8.5 8.5M105.5 387.6l8.5 -8.5M108.6 379.1l8.5 8.5M108.6 387.6l8.5 -8.5M111.7 379.1l8.5 8.5M111.7 387.6l8.5 -8.5M114.8 379.1l8.5 8.5M114.8 387.6l8.5 -8.5M118.0 379.1l8.5 8.5M118.0 387.6l8.5 -8.5M121.2 379.1l8.5 8.5M121.2 387.6l8.5 -8.5M124.4 379.1l8.5 8.5M124.4 387.6l8.5 -8.5M127.7 379.1l8.5 8.5M127.7 387.6l8.5 -8.5M131.1 379.1l8.5 8.5M131.1 387.6l8.5 -8.5M134.4 379.1l8.5 8.5M134.4 387.6l8.5 -8.5M137.9 379.1l8.5 8.5M137.9 387.6l8.5 -8.5M141.3 379.1l8.5 8.5M141.3 387.6l8.5 -8.5M144.8 379.1l8.5 8.5M144.8 387.6l8.5 -8.5M148.4 379.1l8.5 8.5M148.4 387.6l8.5 -8.5M151.9 379.1l8.5 8.5M151.9 387.6l8.5 -8.5M155.6 379.1l8.5 8.5M155.6 387.6l8.5 -8.5M159.3 379.1l8.5 8.5M159.3 387.6l8.5 -8.5M163.0 379.1l8.5 8.5M163.0 387.6l8.5 -8.5M166.7 379.1l8.5 8.5M166.7 387.6l8.5 -8.5M170.6 379.1l8.5 8.5M170.6 387.6l8.5 -8.5M174.4 379.1l8.5 8.5M174.4 387.6l8.5 -8.5M178.3 379.1l8.5 8.5M178.3 387.6l8.5 -8.5M182.3 379.1l8.5 8.5M182.3 387.6l8.5 -8.5M186.3 379.1l8.5 8.5M186.3 387.6l8.5 -8.5M190.3 379.1l8.5 8.5M190.3 387.6l8.5 -8.5M194.4 379.1l8.5 8.5M194.4 387.6l8.5 -8.5M198.6 379.1l8.5 8.5M198.6 387.6l8.5 -8.5M202.8 379.1l8.5 8.5M202.8 387.6l8.5 -8.5M207.0 379.1l8.5 8.5M207.0 387.6l8.5 -8.5M211.3 379.1l8.5 8.5M211.3 387.6l8.5 -8.5M215.7 379.1l8.5 8.5M215.7 387.6l8.5 -8.5M219.9 379.1l8.5 8.5M219.9 387.6l8.5 -8.5M224.2 379.1l8.5 8.5M224.2 387.6l8.5 -8.5M228.3 379.1l8.5 8.5M228.3 387.6l8.5 -8.5M232.6 379.1l8.5 8.5M232.6 387.6l8.5 -8.5M237.2 379.1l8.5 8.5M237.2 387.6l8.5 -8.5M241.8 379.1l8.5 8.5M241.8 387.6l8.5 -8.5M246.2 379.1l8.5 8.5M246.2 387.6l8.5 -8.5M250.6 379.1l8.5 8.5M250.6 387.6l8.5 -8.5M255.4 379.1l8.5 8.5M255.4 387.6l8.5 -8.5M260.1 379.1l8.5 8.5M260.1 387.6l8.5 -8.5M264.6 379.1l8.5 8.5M264.6 387.6l8.5 -8.5M269.4 379.1l8.5 8.5M269.4 387.6l8.5 -8.5M274.2 379.1l8.5 8.5M274.2 387.6l8.5 -8.5M278.9 379.1l8.5 8.5M278.9 387.6l8.5 -8.5M283.6 379.1l8.5 8.5M283.6 387.6l8.5 -8.5M288.4 379.1l8.5 8.5M288.4 387.6l8.5 -8.5M293.4 379.1l8.5 8.5M293.4 387.6l8.5 -8.5M298.2 379.1l8.5 8.5M298.2 387.6l8.5 -8.5M280.2 376.1l8.5 8.5M280.2 384.6l8.5 -8.5M284.2 373.9l8.5 8.5M284.2 382.4l8.5 -8.5M288.2 371.9l8.5 8.5M288.2 380.4l8.5 -8.5M292.2 369.8l8.5 8.5M292.2 378.2l8.5 -8.5M296.2 367.6l8.5 8.5M296.2 376.1l8.5 -8.5M300.2 365.4l8.5 8.5M300.2 373.9l8.5 -8.5M304.2 363.1l8.5 8.5M304.2 371.6l8.5 -8.5M308.8 359.8l8.5 8.5M308.8 368.2l8.5 -8.5M313.8 354.2l8.5 8.5M313.8 362.8l8.5 -8.5M323.1 345.1l8.5 8.5M323.1 353.6l8.5 -8.5M339.4 317.2l8.5 8.5M339.4 325.8l8.5 -8.5M237.2 318.6l8.5 8.5M237.2 327.1l8.5 -8.5" stroke="#3a3a3a" stroke-width="1.3" fill="none"/><path d="M219.8 295.3h8.8M224.2 290.9v8.8M224.0 295.6h8.8M228.4 291.2v8.8M228.2 295.9h8.8M232.6 291.5v8.8M232.4 296.2h8.8M236.8 291.8v8.8M237.1 296.6h8.8M241.5 292.2v8.8M241.6 297.1h8.8M246.0 292.7v8.8M246.1 297.6h8.8M250.5 293.2v8.8M250.4 298.0h8.8M254.8 293.6v8.8M255.3 298.6h8.8M259.7 294.2v8.8M260.0 300.1h8.8M264.4 295.7v8.8M264.4 301.7h8.8M268.8 297.3v8.8M269.2 303.3h8.8M273.6 298.9v8.8M274.1 304.8h8.8M278.5 300.4v8.8M278.7 306.2h8.8M283.1 301.9v8.8M283.5 308.6h8.8M287.9 304.2v8.8M288.2 313.0h8.8M292.6 308.6v8.8M293.2 318.3h8.8M297.6 313.9v8.8M298.1 323.3h8.8M302.5 318.9v8.8M219.8 328.0h8.8M224.2 323.6v8.8M224.0 328.0h8.8M228.4 323.6v8.8M228.2 328.0h8.8M232.6 323.6v8.8M232.4 327.9h8.8M236.8 323.5v8.8M237.1 327.9h8.8M241.5 323.5v8.8M241.6 327.9h8.8M246.0 323.5v8.8M246.1 327.9h8.8M250.5 323.5v8.8M250.4 327.9h8.8M254.8 323.5v8.8M255.3 327.9h8.8M259.7 323.5v8.8M260.0 327.9h8.8M264.4 323.5v8.8M264.4 327.9h8.8M268.8 323.5v8.8M269.2 327.9h8.8M273.6 323.5v8.8M274.1 327.8h8.8M278.5 323.4v8.8M278.7 327.8h8.8M283.1 323.4v8.8M283.5 327.8h8.8M287.9 323.4v8.8M288.2 327.8h8.8M292.6 323.4v8.8M293.2 327.8h8.8M297.6 323.4v8.8M298.1 327.8h8.8M302.5 323.4v8.8M303.3 327.7h8.8M307.7 323.3v8.8M307.8 327.6h8.8M312.2 323.2v8.8M312.9 327.6h8.8M317.3 323.2v8.8M318.4 327.5h8.8M322.8 323.1v8.8M323.3 327.4h8.8M327.7 323.0v8.8M328.9 327.4h8.8M333.3 323.0v8.8M334.0 327.3h8.8M338.4 322.9v8.8M339.3 327.2h8.8M343.7 322.8v8.8M344.1 327.2h8.8M348.5 322.8v8.8M349.2 327.1h8.8M353.6 322.7v8.8M354.8 327.0h8.8M359.2 322.6v8.8M360.1 327.0h8.8M364.5 322.6v8.8M365.5 327.0h8.8M369.9 322.6v8.8M371.1 327.0h8.8M375.5 322.6v8.8M376.6 327.1h8.8M381.0 322.7v8.8M382.0 327.1h8.8M386.4 322.7v8.8M388.0 327.1h8.8M392.4 322.7v8.8M393.8 327.1h8.8M398.2 322.7v8.8M398.9 327.1h8.8M403.3 322.7v8.8M404.7 327.1h8.8M409.1 322.7v8.8M410.5 327.2h8.8M414.9 322.8v8.8M416.6 327.2h8.8M421.0 322.8v8.8M421.9 327.2h8.8M426.3 322.8v8.8M428.0 328.0h8.8M432.4 323.6v8.8M433.8 330.1h8.8M438.2 325.7v8.8M439.7 332.1h8.8M444.1 327.7v8.8M445.7 333.5h8.8M450.1 329.1v8.8M451.7 334.5h8.8M456.1 330.1v8.8M457.8 335.3h8.8M462.2 330.9v8.8M463.9 336.0h8.8M468.3 331.6v8.8M470.0 336.4h8.8M474.4 332.0v8.8M476.1 336.8h8.8M480.5 332.4v8.8M482.5 337.2h8.8M486.9 332.8v8.8M488.8 337.8h8.8M493.2 333.4v8.8M495.1 338.4h8.8M499.5 334.1v8.8M501.4 339.1h8.8M505.8 334.7v8.8M507.8 339.7h8.8M512.2 335.3v8.8M514.2 340.2h8.8M518.6 335.8v8.8M520.8 340.8h8.8M525.2 336.4v8.8M527.2 341.3h8.8M531.6 336.9v8.8M533.6 341.8h8.8M538.0 337.4v8.8M539.8 342.3h8.8M544.2 337.9v8.8M228.2 300.1h8.8M232.6 295.7v8.8M232.4 304.5h8.8M236.8 300.1v8.8M237.1 309.8h8.8M241.5 305.4v8.8M241.6 313.2h8.8M246.0 308.8v8.8M246.1 316.0h8.8M250.5 311.6v8.8M250.4 317.9h8.8M254.8 313.5v8.8M255.3 320.4h8.8M259.7 316.0v8.8M260.0 322.4h8.8M264.4 318.0v8.8M264.4 324.0h8.8M268.8 319.6v8.8M269.2 325.4h8.8M273.6 321.0v8.8M274.1 326.6h8.8M278.5 322.2v8.8M278.7 327.2h8.8M283.1 322.8v8.8M241.6 334.6h8.8M246.0 330.2v8.8M246.1 339.3h8.8M250.5 334.9v8.8M250.4 342.7h8.8M254.8 338.3v8.8M255.3 345.8h8.8M259.7 341.4v8.8M260.0 348.2h8.8M264.4 343.8v8.8M264.4 349.9h8.8M268.8 345.5v8.8M269.2 351.4h8.8M273.6 347.0v8.8M274.1 352.6h8.8M278.5 348.2v8.8M278.7 353.4h8.8M283.1 349.0v8.8M283.5 354.1h8.8M287.9 349.7v8.8M288.2 354.7h8.8M292.6 350.3v8.8M293.2 355.1h8.8M297.6 350.7v8.8M298.1 355.2h8.8M302.5 350.8v8.8M303.3 355.2h8.8M307.7 350.8v8.8M307.8 355.2h8.8M312.2 350.8v8.8M312.9 355.2h8.8M317.3 350.8v8.8M318.4 355.2h8.8M322.8 350.8v8.8M323.3 355.2h8.8M327.7 350.8v8.8M328.9 355.2h8.8M333.3 350.8v8.8M334.0 355.5h8.8M338.4 351.1v8.8M339.3 356.0h8.8M343.7 351.6v8.8M344.1 356.4h8.8M348.5 352.0v8.8M349.2 356.9h8.8M353.6 352.5v8.8M354.8 357.4h8.8M359.2 353.0v8.8M360.1 357.6h8.8M364.5 353.2v8.8M365.5 357.6h8.8M369.9 353.2v8.8M371.1 357.7h8.8M375.5 353.3v8.8M376.6 357.8h8.8M381.0 353.4v8.8M382.0 357.9h8.8M386.4 353.5v8.8M388.0 358.0h8.8M392.4 353.6v8.8M393.8 358.0h8.8M398.2 353.6v8.8M398.9 358.1h8.8M403.3 353.7v8.8M404.7 358.2h8.8M409.1 353.8v8.8M410.5 358.3h8.8M414.9 353.9v8.8M416.6 358.4h8.8M421.0 354.0v8.8M421.9 358.4h8.8M426.3 354.0v8.8M428.0 358.5h8.8M432.4 354.1v8.8M433.8 358.5h8.8M438.2 354.1v8.8M439.7 358.6h8.8M444.1 354.2v8.8M445.7 358.6h8.8M450.1 354.2v8.8M451.7 358.6h8.8M456.1 354.2v8.8M457.8 358.7h8.8M462.2 354.3v8.8M463.9 358.7h8.8M468.3 354.3v8.8M470.0 358.7h8.8M474.4 354.3v8.8M476.1 358.8h8.8M480.5 354.4v8.8M482.5 358.8h8.8M486.9 354.4v8.8M488.8 358.8h8.8M493.2 354.4v8.8M495.1 358.8h8.8M499.5 354.4v8.8M501.4 358.9h8.8M505.8 354.5v8.8M507.8 358.9h8.8M512.2 354.5v8.8M514.2 358.9h8.8M518.6 354.5v8.8M520.8 358.9h8.8M525.2 354.5v8.8M527.2 358.9h8.8M531.6 354.5v8.8M533.6 359.0h8.8M538.0 354.6v8.8M539.8 359.0h8.8M544.2 354.6v8.8M293.2 330.0h8.8M297.6 325.6v8.8M298.1 331.2h8.8M302.5 326.8v8.8M303.3 332.2h8.8M307.7 327.8v8.8M307.8 333.1h8.8M312.2 328.7v8.8M312.9 334.0h8.8M317.3 329.6v8.8M318.4 334.5h8.8M322.8 330.1v8.8M323.3 334.9h8.8M327.7 330.5v8.8M328.9 335.4h8.8M333.3 331.0v8.8M334.0 335.9h8.8M338.4 331.5v8.8M339.3 336.7h8.8M343.7 332.3v8.8M344.1 337.4h8.8M348.5 333.0v8.8M349.2 338.1h8.8M353.6 333.7v8.8M354.8 339.0h8.8M359.2 334.6v8.8M360.1 339.5h8.8M364.5 335.1v8.8M365.5 339.9h8.8M369.9 335.5v8.8M371.1 340.3h8.8M375.5 335.9v8.8M376.6 340.8h8.8M381.0 336.4v8.8M382.0 341.2h8.8M386.4 336.8v8.8M388.0 341.6h8.8M392.4 337.2v8.8M393.8 342.1h8.8M398.2 337.7v8.8M398.9 342.5h8.8M403.3 338.1v8.8M404.7 343.0h8.8M409.1 338.6v8.8M410.5 343.4h8.8M414.9 339.0v8.8M416.6 343.9h8.8M421.0 339.5v8.8M421.9 344.3h8.8M426.3 339.9v8.8M428.0 344.8h8.8M432.4 340.4v8.8M433.8 345.1h8.8M438.2 340.7v8.8M439.7 345.5h8.8M444.1 341.1v8.8M445.7 345.9h8.8M450.1 341.5v8.8M451.7 346.3h8.8M456.1 341.9v8.8M457.8 346.7h8.8M462.2 342.3v8.8M463.9 347.4h8.8M468.3 343.0v8.8M470.0 348.1h8.8M474.4 343.7v8.8M476.1 348.8h8.8M480.5 344.4v8.8M482.5 349.5h8.8M486.9 345.1v8.8M488.8 349.6h8.8M493.2 345.2v8.8M495.1 349.8h8.8M499.5 345.4v8.8M501.4 349.9h8.8M505.8 345.5v8.8M507.8 350.1h8.8M512.2 345.7v8.8M514.2 350.3h8.8M518.6 345.9v8.8M520.8 350.4h8.8M525.2 346.0v8.8M527.2 350.6h8.8M531.6 346.2v8.8M533.6 350.7h8.8M538.0 346.3v8.8M539.8 350.9h8.8M544.2 346.5v8.8M307.8 334.1h8.8M312.2 329.7v8.8M312.9 337.0h8.8M317.3 332.6v8.8M318.4 340.2h8.8M322.8 335.8v8.8M323.3 341.5h8.8M327.7 337.1v8.8M328.9 342.8h8.8M333.3 338.4v8.8M334.0 343.4h8.8M338.4 339.0v8.8M339.3 344.0h8.8M343.7 339.6v8.8M344.1 344.8h8.8M348.5 340.4v8.8M349.2 345.6h8.8M353.6 341.2v8.8M354.8 346.6h8.8M359.2 342.2v8.8M360.1 347.0h8.8M364.5 342.6v8.8M365.5 347.4h8.8M369.9 343.0v8.8M371.1 347.8h8.8M375.5 343.4v8.8M376.6 348.2h8.8M381.0 343.8v8.8M382.0 348.6h8.8M386.4 344.2v8.8M388.0 349.1h8.8M392.4 344.7v8.8M393.8 349.5h8.8M398.2 345.1v8.8M398.9 349.9h8.8M403.3 345.5v8.8M404.7 350.3h8.8M409.1 345.9v8.8M410.5 350.7h8.8M414.9 346.3v8.8M416.6 351.1h8.8M421.0 346.7v8.8M421.9 351.5h8.8M426.3 347.1v8.8M428.0 351.9h8.8M432.4 347.5v8.8M433.8 352.0h8.8M438.2 347.6v8.8M439.7 352.1h8.8M444.1 347.7v8.8M445.7 352.3h8.8M450.1 347.9v8.8M451.7 352.4h8.8M456.1 348.0v8.8M457.8 352.6h8.8M462.2 348.2v8.8M463.9 353.0h8.8M468.3 348.6v8.8M470.0 353.3h8.8M474.4 348.9v8.8M476.1 353.6h8.8M480.5 349.2v8.8M482.5 354.0h8.8M486.9 349.6v8.8M488.8 354.1h8.8M493.2 349.7v8.8M495.1 354.2h8.8M499.5 349.8v8.8M501.4 354.3h8.8M505.8 349.9v8.8M507.8 354.4h8.8M512.2 350.0v8.8M514.2 354.5h8.8M518.6 350.1v8.8M520.8 354.6h8.8M525.2 350.2v8.8M527.2 354.7h8.8M531.6 350.3v8.8M533.6 354.8h8.8M538.0 350.4v8.8M539.8 354.9h8.8M544.2 350.5v8.8M219.8 359.4h8.8M224.2 355.0v8.8M224.0 359.5h8.8M228.4 355.1v8.8M228.2 359.6h8.8M232.6 355.2v8.8M232.4 359.7h8.8M236.8 355.3v8.8M237.1 359.8h8.8M241.5 355.4v8.8M241.6 359.9h8.8M246.0 355.5v8.8M246.1 359.9h8.8M250.5 355.5v8.8M250.4 360.0h8.8M254.8 355.6v8.8M255.3 360.1h8.8M259.7 355.7v8.8M260.0 360.1h8.8M264.4 355.7v8.8M264.4 360.2h8.8M268.8 355.8v8.8M269.2 360.3h8.8M273.6 355.9v8.8M274.1 360.3h8.8M278.5 355.9v8.8M278.7 360.4h8.8M283.1 356.0v8.8M283.5 360.5h8.8M287.9 356.1v8.8M288.2 360.6h8.8M292.6 356.2v8.8M293.2 360.8h8.8M297.6 356.4v8.8M298.1 361.0h8.8M302.5 356.6v8.8M303.3 361.2h8.8M307.7 356.8v8.8M307.8 361.3h8.8M312.2 356.9v8.8M312.9 361.5h8.8M317.3 357.1v8.8M318.4 361.7h8.8M322.8 357.3v8.8M323.3 361.9h8.8M327.7 357.5v8.8M328.9 362.1h8.8M333.3 357.7v8.8M334.0 362.3h8.8M338.4 357.9v8.8M339.3 362.5h8.8M343.7 358.1v8.8M344.1 362.6h8.8M348.5 358.2v8.8M349.2 362.8h8.8M353.6 358.4v8.8M354.8 363.0h8.8M359.2 358.6v8.8M360.1 363.0h8.8M364.5 358.6v8.8M365.5 363.0h8.8M369.9 358.6v8.8M371.1 363.0h8.8M375.5 358.6v8.8M376.6 363.0h8.8M381.0 358.6v8.8M382.0 363.0h8.8M386.4 358.6v8.8M388.0 363.0h8.8M392.4 358.6v8.8M393.8 363.0h8.8M398.2 358.6v8.8M398.9 363.0h8.8M403.3 358.6v8.8M404.7 363.0h8.8M409.1 358.6v8.8M410.5 363.0h8.8M414.9 358.6v8.8M416.6 363.0h8.8M421.0 358.6v8.8M421.9 363.0h8.8M426.3 358.6v8.8M428.0 363.0h8.8M432.4 358.6v8.8M433.8 363.0h8.8M438.2 358.6v8.8M439.7 363.0h8.8M444.1 358.6v8.8M445.7 363.1h8.8M450.1 358.7v8.8M451.7 363.1h8.8M456.1 358.7v8.8M457.8 363.1h8.8M462.2 358.7v8.8M463.9 363.1h8.8M468.3 358.7v8.8M470.0 363.1h8.8M474.4 358.7v8.8M476.1 363.1h8.8M480.5 358.7v8.8M482.5 363.1h8.8M486.9 358.7v8.8M488.8 363.2h8.8M493.2 358.8v8.8M495.1 363.2h8.8M499.5 358.8v8.8M501.4 363.2h8.8M505.8 358.8v8.8M507.8 363.2h8.8M512.2 358.8v8.8M514.2 363.2h8.8M518.6 358.8v8.8M520.8 363.2h8.8M525.2 358.8v8.8M527.2 363.3h8.8M531.6 358.9v8.8M533.6 363.3h8.8M538.0 358.9v8.8M539.8 363.3h8.8M544.2 358.9v8.8M219.8 364.9h8.8M224.2 360.5v8.8M224.0 364.8h8.8M228.4 360.4v8.8M228.2 364.7h8.8M232.6 360.3v8.8M232.4 364.7h8.8M236.8 360.3v8.8M237.1 364.6h8.8M241.5 360.2v8.8M241.6 364.5h8.8M246.0 360.1v8.8M246.1 364.4h8.8M250.5 360.0v8.8M250.4 364.4h8.8M254.8 360.0v8.8M255.3 364.3h8.8M259.7 359.9v8.8M260.0 364.2h8.8M264.4 359.8v8.8M264.4 364.1h8.8M268.8 359.7v8.8M269.2 364.1h8.8M273.6 359.7v8.8M274.1 364.0h8.8M278.5 359.6v8.8M278.7 363.9h8.8M283.1 359.5v8.8M283.5 363.8h8.8M287.9 359.4v8.8M288.2 363.8h8.8M292.6 359.4v8.8M293.2 363.8h8.8M297.6 359.4v8.8M298.1 363.8h8.8M302.5 359.4v8.8M303.3 363.8h8.8M307.7 359.4v8.8M307.8 363.8h8.8M312.2 359.4v8.8M312.9 363.8h8.8M317.3 359.4v8.8M318.4 363.8h8.8M322.8 359.4v8.8M323.3 363.8h8.8M327.7 359.4v8.8M328.9 363.8h8.8M333.3 359.4v8.8M334.0 363.8h8.8M338.4 359.4v8.8M339.3 363.8h8.8M343.7 359.4v8.8M344.1 363.8h8.8M348.5 359.4v8.8M349.2 363.8h8.8M353.6 359.4v8.8M354.8 363.8h8.8M359.2 359.4v8.8M360.1 363.8h8.8M364.5 359.4v8.8M365.5 363.8h8.8M369.9 359.4v8.8M371.1 363.8h8.8M375.5 359.4v8.8M376.6 363.8h8.8M381.0 359.4v8.8M382.0 363.9h8.8M386.4 359.5v8.8M388.0 363.9h8.8M392.4 359.5v8.8M393.8 363.9h8.8M398.2 359.5v8.8M398.9 363.9h8.8M403.3 359.5v8.8M404.7 363.9h8.8M409.1 359.5v8.8M410.5 363.9h8.8M414.9 359.5v8.8M416.6 363.9h8.8M421.0 359.5v8.8M421.9 363.9h8.8M426.3 359.5v8.8M428.0 363.9h8.8M432.4 359.5v8.8M433.8 363.9h8.8M438.2 359.5v8.8M439.7 363.9h8.8M444.1 359.5v8.8M445.7 363.9h8.8M450.1 359.5v8.8M451.7 363.9h8.8M456.1 359.5v8.8M457.8 363.9h8.8M462.2 359.5v8.8M463.9 363.9h8.8M468.3 359.5v8.8M470.0 363.9h8.8M474.4 359.5v8.8M476.1 363.9h8.8M480.5 359.5v8.8M482.5 363.9h8.8M486.9 359.5v8.8M488.8 363.9h8.8M493.2 359.5v8.8M495.1 364.0h8.8M499.5 359.6v8.8M501.4 364.0h8.8M505.8 359.6v8.8M507.8 364.0h8.8M512.2 359.6v8.8M514.2 364.0h8.8M518.6 359.6v8.8M520.8 364.0h8.8M525.2 359.6v8.8M527.2 364.0h8.8M531.6 359.6v8.8M533.6 364.0h8.8M538.0 359.6v8.8M539.8 364.0h8.8M544.2 359.6v8.8M219.8 362.1h8.8M224.2 357.7v8.8M224.0 362.2h8.8M228.4 357.8v8.8M228.2 362.2h8.8M232.6 357.8v8.8M219.8 356.0h8.8M224.2 351.6v8.8M224.0 356.2h8.8M228.4 351.8v8.8M228.2 356.4h8.8M232.6 352.0v8.8M232.4 356.6h8.8M236.8 352.2v8.8M237.1 356.8h8.8M241.5 352.4v8.8M241.6 357.0h8.8M246.0 352.6v8.8M246.1 357.2h8.8M250.5 352.8v8.8M250.4 357.4h8.8M254.8 353.0v8.8M255.3 357.6h8.8M259.7 353.2v8.8M260.0 357.8h8.8M264.4 353.4v8.8M264.4 358.0h8.8M268.8 353.6v8.8M269.2 358.2h8.8M273.6 353.8v8.8M274.1 358.4h8.8M278.5 354.0v8.8M288.2 257.7h8.8M292.6 253.3v8.8M293.2 261.2h8.8M297.6 256.8v8.8M298.1 264.6h8.8M302.5 260.2v8.8M303.3 267.6h8.8M307.7 263.2v8.8M307.8 269.6h8.8M312.2 265.2v8.8M312.9 272.5h8.8M317.3 268.1v8.8M318.4 275.0h8.8M322.8 270.6v8.8M323.3 277.3h8.8M327.7 272.9v8.8M328.9 279.8h8.8M333.3 275.4v8.8M334.0 282.3h8.8M338.4 277.9v8.8M339.3 284.9h8.8M343.7 280.5v8.8M344.1 287.1h8.8M348.5 282.7v8.8M349.2 288.1h8.8M353.6 283.7v8.8M354.8 289.6h8.8M359.2 285.2v8.8M360.1 291.0h8.8M364.5 286.6v8.8M365.5 292.2h8.8M369.9 287.8v8.8M371.1 293.9h8.8M375.5 289.5v8.8M376.6 295.4h8.8M381.0 291.0v8.8M382.0 297.6h8.8M386.4 293.2v8.8M388.0 299.1h8.8M392.4 294.7v8.8M393.8 300.5h8.8M398.2 296.1v8.8M398.9 302.0h8.8M403.3 297.6v8.8M404.7 303.0h8.8M409.1 298.6v8.8M410.5 304.5h8.8M414.9 300.1v8.8M416.6 312.2h8.8M421.0 307.8v8.8M421.9 320.0h8.8M426.3 315.6v8.8M428.0 325.5h8.8M432.4 321.1v8.8M433.8 329.9h8.8M438.2 325.5v8.8M439.7 332.5h8.8M444.1 328.1v8.8M445.7 335.9h8.8M450.1 331.5v8.8M451.7 337.5h8.8M456.1 333.1v8.8M457.8 339.0h8.8M462.2 334.6v8.8M463.9 340.3h8.8M468.3 335.9v8.8M470.0 342.5h8.8M474.4 338.1v8.8M476.1 344.6h8.8M480.5 340.2v8.8M482.5 345.5h8.8M486.9 341.1v8.8M488.8 346.0h8.8M493.2 341.6v8.8M495.1 346.6h8.8M499.5 342.2v8.8M501.4 347.1h8.8M505.8 342.7v8.8M507.8 347.6h8.8M512.2 343.2v8.8M514.2 347.9h8.8M518.6 343.5v8.8M520.8 348.2h8.8M525.2 343.8v8.8M527.2 348.6h8.8M531.6 344.2v8.8M533.6 348.9h8.8M538.0 344.5v8.8M539.8 349.2h8.8M544.2 344.8v8.8M546.1 349.5h8.8M550.5 345.1v8.8M318.4 268.0h8.8M322.8 263.6v8.8M323.3 272.1h8.8M327.7 267.7v8.8M328.9 275.9h8.8M333.3 271.5v8.8M334.0 278.4h8.8M338.4 274.0v8.8M339.3 279.8h8.8M343.7 275.4v8.8M344.1 280.8h8.8M348.5 276.4v8.8M349.2 281.7h8.8M353.6 277.3v8.8M354.8 282.7h8.8M359.2 278.3v8.8M360.1 283.5h8.8M364.5 279.1v8.8M365.5 283.2h8.8M369.9 278.8v8.8M371.1 284.2h8.8M375.5 279.8v8.8M376.6 284.9h8.8M381.0 280.5v8.8M376.6 301.7h8.8M381.0 297.3v8.8M382.0 307.5h8.8M386.4 303.1v8.8M388.0 312.2h8.8M392.4 307.8v8.8M393.8 315.7h8.8M398.2 311.3v8.8M398.9 318.6h8.8M403.3 314.2v8.8M404.7 321.2h8.8M409.1 316.8v8.8M410.5 323.4h8.8M414.9 319.0v8.8M416.6 324.8h8.8M421.0 320.4v8.8M421.9 326.0h8.8M426.3 321.6v8.8M428.0 326.8h8.8M432.4 322.4v8.8M232.4 47.3h8.8M236.8 42.9v8.8M237.1 119.8h8.8M241.5 115.4v8.8M241.6 158.0h8.8M246.0 153.6v8.8M246.1 181.8h8.8M250.5 177.4v8.8M250.4 199.4h8.8M254.8 195.0v8.8M255.3 212.1h8.8M259.7 207.7v8.8M260.0 222.5h8.8M264.4 218.1v8.8M264.4 231.2h8.8M268.8 226.8v8.8M269.2 237.8h8.8M273.6 233.4v8.8M274.1 243.5h8.8M278.5 239.1v8.8M278.7 248.9h8.8M283.1 244.5v8.8M283.5 253.3h8.8M287.9 248.9v8.8M211.2 153.2h8.8M215.6 148.8v8.8M215.5 246.4h8.8M219.9 242.0v8.8M219.8 274.6h8.8M224.2 270.2v8.8M224.0 288.8h8.8M228.4 284.4v8.8M303.3 199.2h8.8M307.7 194.8v8.8M308.1 238.0h8.8M312.5 233.6v8.8M308.1 244.3h8.8M312.5 239.9v8.8M312.9 259.9h8.8M317.3 255.5v8.8M360.1 260.2h8.8M364.5 255.8v8.8M312.7 298.6h8.8M317.1 294.2v8.8M318.1 316.8h8.8M322.5 312.4v8.8M171.3 323.4h8.8M175.7 319.0v8.8M175.2 341.2h8.8M179.6 336.8v8.8M125.4 346.5h8.8M129.8 342.1v8.8M129.1 352.3h8.8M133.5 347.9v8.8M355.1 146.5h8.8M359.5 142.1v8.8M344.1 307.4h8.8M348.5 303.0v8.8M85.6 381.5h8.8M90.0 377.1v8.8M89.4 377.5h8.8M93.8 373.1v8.8M93.8 373.2h8.8M98.2 368.8v8.8M105.1 376.0h8.8M109.5 371.6v8.8M109.3 375.8h8.8M113.7 371.4v8.8M113.5 375.8h8.8M117.9 371.4v8.8M117.7 376.0h8.8M122.1 371.6v8.8M121.9 376.3h8.8M126.3 371.9v8.8M143.6 376.5h8.8M148.0 372.1v8.8M147.8 376.5h8.8M152.2 372.1v8.8M152.0 376.5h8.8M156.4 372.1v8.8M156.2 376.5h8.8M160.6 372.1v8.8M160.2 376.8h8.8M164.6 372.4v8.8M206.6 380.0h8.8M211.0 375.6v8.8M79.4 383.3h8.8M83.8 378.9v8.8M82.2 383.3h8.8M86.6 378.9v8.8M84.9 383.3h8.8M89.3 378.9v8.8M87.7 383.3h8.8M92.1 378.9v8.8M90.6 383.3h8.8M95.0 378.9v8.8M93.5 383.3h8.8M97.9 378.9v8.8M96.4 383.3h8.8M100.8 378.9v8.8M99.3 383.3h8.8M103.7 378.9v8.8M102.3 383.3h8.8M106.7 378.9v8.8M105.3 383.3h8.8M109.7 378.9v8.8M108.4 383.3h8.8M112.8 378.9v8.8M111.5 383.3h8.8M115.9 378.9v8.8M114.6 383.3h8.8M119.0 378.9v8.8M117.8 383.3h8.8M122.2 378.9v8.8M121.0 383.3h8.8M125.4 378.9v8.8M124.3 383.3h8.8M128.7 378.9v8.8M127.6 383.3h8.8M132.0 378.9v8.8M130.9 383.3h8.8M135.3 378.9v8.8M134.3 383.3h8.8M138.7 378.9v8.8M137.7 383.3h8.8M142.1 378.9v8.8M141.2 383.3h8.8M145.6 378.9v8.8M144.7 383.3h8.8M149.1 378.9v8.8M148.2 383.3h8.8M152.6 378.9v8.8M151.8 383.3h8.8M156.2 378.9v8.8M155.4 383.3h8.8M159.8 378.9v8.8M159.1 383.3h8.8M163.5 378.9v8.8M162.8 383.3h8.8M167.2 378.9v8.8M166.6 383.3h8.8M171.0 378.9v8.8M170.4 383.3h8.8M174.8 378.9v8.8M174.3 383.3h8.8M178.7 378.9v8.8M178.2 383.3h8.8M182.6 378.9v8.8M182.1 383.3h8.8M186.5 378.9v8.8M186.1 383.3h8.8M190.5 378.9v8.8M190.2 383.3h8.8M194.6 378.9v8.8M194.3 383.3h8.8M198.7 378.9v8.8M198.4 383.3h8.8M202.8 378.9v8.8M202.6 383.3h8.8M207.0 378.9v8.8M206.9 383.3h8.8M211.3 378.9v8.8M211.2 383.3h8.8M215.6 378.9v8.8M215.5 383.3h8.8M219.9 378.9v8.8M219.8 383.3h8.8M224.2 378.9v8.8M224.0 383.3h8.8M228.4 378.9v8.8M228.2 383.3h8.8M232.6 378.9v8.8M232.4 383.3h8.8M236.8 378.9v8.8M237.1 383.3h8.8M241.5 378.9v8.8M241.6 383.3h8.8M246.0 378.9v8.8M246.1 383.3h8.8M250.5 378.9v8.8M250.4 383.3h8.8M254.8 378.9v8.8M255.3 383.3h8.8M259.7 378.9v8.8M260.0 383.3h8.8M264.4 378.9v8.8M264.4 383.3h8.8M268.8 378.9v8.8M269.2 383.3h8.8M273.6 378.9v8.8M274.1 383.3h8.8M278.5 378.9v8.8M278.7 383.3h8.8M283.1 378.9v8.8M283.5 383.3h8.8M287.9 378.9v8.8M288.2 383.3h8.8M292.6 378.9v8.8M293.2 383.3h8.8M297.6 378.9v8.8M298.1 383.3h8.8M302.5 378.9v8.8M280.1 380.3h8.8M284.5 375.9v8.8M284.1 378.2h8.8M288.5 373.8v8.8M288.1 376.1h8.8M292.5 371.7v8.8M292.1 374.0h8.8M296.5 369.6v8.8M296.1 371.8h8.8M300.5 367.4v8.8M300.1 369.6h8.8M304.5 365.2v8.8M304.1 367.4h8.8M308.5 363.0v8.8M308.6 364.0h8.8M313.0 359.6v8.8M313.6 358.5h8.8M318.0 354.1v8.8M322.9 349.3h8.8M327.3 344.9v8.8M339.2 321.5h8.8M343.6 317.1v8.8M237.0 322.8h8.8M241.4 318.4v8.8" stroke="#505050" stroke-width="0.9" fill="none"/><path d="M81.2 290.7l5.2 5.2M81.2 295.9l5.2 -5.2M84.0 290.7l5.2 5.2M84.0 295.9l5.2 -5.2M86.7 290.7l5.2 5.2M86.7 295.9l5.2 -5.2M89.5 290.7l5.2 5.2M89.5 295.9l5.2 -5.2M92.4 290.8l5.2 5.2M92.4 296.0l5.2 -5.2M95.3 290.8l5.2 5.2M95.3 296.0l5.2 -5.2M98.2 290.8l5.2 5.2M98.2 296.0l5.2 -5.2M101.1 290.8l5.2 5.2M101.1 296.0l5.2 -5.2M104.1 290.8l5.2 5.2M104.1 296.0l5.2 -5.2M107.1 290.8l5.2 5.2M107.1 296.0l5.2 -5.2M110.2 290.8l5.2 5.2M110.2 296.0l5.2 -5.2M113.3 290.8l5.2 5.2M113.3 296.0l5.2 -5.2M116.4 290.9l5.2 5.2M116.4 296.1l5.2 -5.2M119.6 290.9l5.2 5.2M119.6 296.1l5.2 -5.2M122.8 290.9l5.2 5.2M122.8 296.1l5.2 -5.2M126.1 290.9l5.2 5.2M126.1 296.1l5.2 -5.2M129.4 290.9l5.2 5.2M129.4 296.1l5.2 -5.2M132.7 290.9l5.2 5.2M132.7 296.1l5.2 -5.2M136.1 290.9l5.2 5.2M136.1 296.1l5.2 -5.2M139.5 291.0l5.2 5.2M139.5 296.2l5.2 -5.2M143.0 291.0l5.2 5.2M143.0 296.2l5.2 -5.2M146.5 291.0l5.2 5.2M146.5 296.2l5.2 -5.2M150.0 291.0l5.2 5.2M150.0 296.2l5.2 -5.2M153.6 291.1l5.2 5.2M153.6 296.3l5.2 -5.2M157.2 291.1l5.2 5.2M157.2 296.3l5.2 -5.2M160.9 291.2l5.2 5.2M160.9 296.4l5.2 -5.2M164.6 291.2l5.2 5.2M164.6 296.4l5.2 -5.2M168.4 291.3l5.2 5.2M168.4 296.5l5.2 -5.2M172.2 291.3l5.2 5.2M172.2 296.5l5.2 -5.2M176.1 291.3l5.2 5.2M176.1 296.5l5.2 -5.2M180.0 291.4l5.2 5.2M180.0 296.6l5.2 -5.2M183.9 291.4l5.2 5.2M183.9 296.6l5.2 -5.2M187.9 291.5l5.2 5.2M187.9 296.7l5.2 -5.2M192.0 291.5l5.2 5.2M192.0 296.7l5.2 -5.2M196.1 291.6l5.2 5.2M196.1 296.8l5.2 -5.2M200.2 291.7l5.2 5.2M200.2 296.9l5.2 -5.2M204.4 291.8l5.2 5.2M204.4 297.0l5.2 -5.2M208.7 292.0l5.2 5.2M208.7 297.2l5.2 -5.2M213.0 292.1l5.2 5.2M213.0 297.3l5.2 -5.2M217.3 292.4l5.2 5.2M217.3 297.6l5.2 -5.2M81.2 325.7l5.2 5.2M81.2 330.9l5.2 -5.2M84.0 325.7l5.2 5.2M84.0 330.9l5.2 -5.2M86.7 325.7l5.2 5.2M86.7 330.9l5.2 -5.2M89.5 325.7l5.2 5.2M89.5 330.9l5.2 -5.2M92.4 325.7l5.2 5.2M92.4 330.9l5.2 -5.2M95.3 325.7l5.2 5.2M95.3 330.9l5.2 -5.2M98.2 325.7l5.2 5.2M98.2 330.9l5.2 -5.2M101.1 325.7l5.2 5.2M101.1 330.9l5.2 -5.2M104.1 325.6l5.2 5.2M104.1 330.8l5.2 -5.2M107.1 325.6l5.2 5.2M107.1 330.8l5.2 -5.2M110.2 325.6l5.2 5.2M110.2 330.8l5.2 -5.2M113.3 325.6l5.2 5.2M113.3 330.8l5.2 -5.2M116.4 325.6l5.2 5.2M116.4 330.8l5.2 -5.2M119.6 325.6l5.2 5.2M119.6 330.8l5.2 -5.2M122.8 325.6l5.2 5.2M122.8 330.8l5.2 -5.2M126.1 325.6l5.2 5.2M126.1 330.8l5.2 -5.2M129.4 325.6l5.2 5.2M129.4 330.8l5.2 -5.2M132.7 325.6l5.2 5.2M132.7 330.8l5.2 -5.2M136.1 325.6l5.2 5.2M136.1 330.8l5.2 -5.2M139.5 325.6l5.2 5.2M139.5 330.8l5.2 -5.2M143.0 325.6l5.2 5.2M143.0 330.8l5.2 -5.2M146.5 325.5l5.2 5.2M146.5 330.7l5.2 -5.2M150.0 325.5l5.2 5.2M150.0 330.7l5.2 -5.2M153.6 325.5l5.2 5.2M153.6 330.7l5.2 -5.2M157.2 325.5l5.2 5.2M157.2 330.7l5.2 -5.2M160.9 325.5l5.2 5.2M160.9 330.7l5.2 -5.2M164.6 325.5l5.2 5.2M164.6 330.7l5.2 -5.2M168.4 325.5l5.2 5.2M168.4 330.7l5.2 -5.2M172.2 325.5l5.2 5.2M172.2 330.7l5.2 -5.2M176.1 325.5l5.2 5.2M176.1 330.7l5.2 -5.2M180.0 325.5l5.2 5.2M180.0 330.7l5.2 -5.2M183.9 325.5l5.2 5.2M183.9 330.7l5.2 -5.2M187.9 325.5l5.2 5.2M187.9 330.7l5.2 -5.2M192.0 325.4l5.2 5.2M192.0 330.6l5.2 -5.2M196.1 325.4l5.2 5.2M196.1 330.6l5.2 -5.2M200.2 325.4l5.2 5.2M200.2 330.6l5.2 -5.2M204.4 325.4l5.2 5.2M204.4 330.6l5.2 -5.2M208.7 325.4l5.2 5.2M208.7 330.6l5.2 -5.2M213.0 325.4l5.2 5.2M213.0 330.6l5.2 -5.2M217.3 325.4l5.2 5.2M217.3 330.6l5.2 -5.2M81.2 356.0l5.2 5.2M81.2 361.2l5.2 -5.2M84.0 356.0l5.2 5.2M84.0 361.2l5.2 -5.2M86.7 356.0l5.2 5.2M86.7 361.2l5.2 -5.2M89.5 355.9l5.2 5.2M89.5 361.1l5.2 -5.2M92.4 355.9l5.2 5.2M92.4 361.1l5.2 -5.2M95.3 355.9l5.2 5.2M95.3 361.1l5.2 -5.2M98.2 355.9l5.2 5.2M98.2 361.1l5.2 -5.2M101.1 355.9l5.2 5.2M101.1 361.1l5.2 -5.2M104.1 355.8l5.2 5.2M104.1 361.0l5.2 -5.2M107.1 355.8l5.2 5.2M107.1 361.0l5.2 -5.2M110.2 355.8l5.2 5.2M110.2 361.0l5.2 -5.2M113.3 355.8l5.2 5.2M113.3 361.0l5.2 -5.2M116.4 355.7l5.2 5.2M116.4 360.9l5.2 -5.2M119.6 355.7l5.2 5.2M119.6 360.9l5.2 -5.2M122.8 355.7l5.2 5.2M122.8 360.9l5.2 -5.2M126.1 355.7l5.2 5.2M126.1 360.9l5.2 -5.2M129.4 355.7l5.2 5.2M129.4 360.9l5.2 -5.2M132.7 355.6l5.2 5.2M132.7 360.8l5.2 -5.2M136.1 355.6l5.2 5.2M136.1 360.8l5.2 -5.2M139.5 355.6l5.2 5.2M139.5 360.8l5.2 -5.2M143.0 355.7l5.2 5.2M143.0 360.9l5.2 -5.2M146.5 355.7l5.2 5.2M146.5 360.9l5.2 -5.2M150.0 355.7l5.2 5.2M150.0 360.9l5.2 -5.2M153.6 355.8l5.2 5.2M153.6 361.0l5.2 -5.2M157.2 355.8l5.2 5.2M157.2 361.0l5.2 -5.2M160.9 355.8l5.2 5.2M160.9 361.0l5.2 -5.2M164.6 355.9l5.2 5.2M164.6 361.1l5.2 -5.2M168.4 355.9l5.2 5.2M168.4 361.1l5.2 -5.2M172.2 355.9l5.2 5.2M172.2 361.1l5.2 -5.2M176.1 356.0l5.2 5.2M176.1 361.2l5.2 -5.2M180.0 356.0l5.2 5.2M180.0 361.2l5.2 -5.2M183.9 356.1l5.2 5.2M183.9 361.3l5.2 -5.2M187.9 356.1l5.2 5.2M187.9 361.3l5.2 -5.2M192.0 356.1l5.2 5.2M192.0 361.3l5.2 -5.2M196.1 356.2l5.2 5.2M196.1 361.4l5.2 -5.2M200.2 356.3l5.2 5.2M200.2 361.5l5.2 -5.2M204.4 356.4l5.2 5.2M204.4 361.6l5.2 -5.2M208.7 356.5l5.2 5.2M208.7 361.7l5.2 -5.2M213.0 356.6l5.2 5.2M213.0 361.8l5.2 -5.2M217.3 356.7l5.2 5.2M217.3 361.9l5.2 -5.2M95.3 363.3l5.2 5.2M95.3 368.5l5.2 -5.2M98.2 363.6l5.2 5.2M98.2 368.8l5.2 -5.2M101.1 363.9l5.2 5.2M101.1 369.1l5.2 -5.2M104.1 364.0l5.2 5.2M104.1 369.2l5.2 -5.2M107.1 364.0l5.2 5.2M107.1 369.2l5.2 -5.2M110.2 364.1l5.2 5.2M110.2 369.3l5.2 -5.2M113.3 364.1l5.2 5.2M113.3 369.3l5.2 -5.2M116.4 364.1l5.2 5.2M116.4 369.3l5.2 -5.2M119.6 364.1l5.2 5.2M119.6 369.3l5.2 -5.2M122.8 364.2l5.2 5.2M122.8 369.4l5.2 -5.2M126.1 364.2l5.2 5.2M126.1 369.4l5.2 -5.2M129.4 364.1l5.2 5.2M129.4 369.3l5.2 -5.2M132.7 363.9l5.2 5.2M132.7 369.1l5.2 -5.2M136.1 363.8l5.2 5.2M136.1 369.0l5.2 -5.2M139.5 363.7l5.2 5.2M139.5 368.9l5.2 -5.2M143.0 363.6l5.2 5.2M143.0 368.8l5.2 -5.2M146.5 363.5l5.2 5.2M146.5 368.7l5.2 -5.2M150.0 363.5l5.2 5.2M150.0 368.7l5.2 -5.2M153.6 363.4l5.2 5.2M153.6 368.6l5.2 -5.2M157.2 363.4l5.2 5.2M157.2 368.6l5.2 -5.2M160.9 363.3l5.2 5.2M160.9 368.5l5.2 -5.2M164.6 363.2l5.2 5.2M164.6 368.4l5.2 -5.2M168.4 363.2l5.2 5.2M168.4 368.4l5.2 -5.2M172.2 363.1l5.2 5.2M172.2 368.3l5.2 -5.2M176.1 363.1l5.2 5.2M176.1 368.3l5.2 -5.2M180.0 363.0l5.2 5.2M180.0 368.2l5.2 -5.2M183.9 362.9l5.2 5.2M183.9 368.1l5.2 -5.2M187.9 362.9l5.2 5.2M187.9 368.1l5.2 -5.2M192.0 362.8l5.2 5.2M192.0 368.0l5.2 -5.2M196.1 362.7l5.2 5.2M196.1 367.9l5.2 -5.2M200.2 362.7l5.2 5.2M200.2 367.9l5.2 -5.2M204.4 362.6l5.2 5.2M204.4 367.8l5.2 -5.2M208.7 362.5l5.2 5.2M208.7 367.7l5.2 -5.2M213.0 362.4l5.2 5.2M213.0 367.6l5.2 -5.2M217.3 362.4l5.2 5.2M217.3 367.6l5.2 -5.2M104.1 358.6l5.2 5.2M104.1 363.8l5.2 -5.2M107.1 358.6l5.2 5.2M107.1 363.8l5.2 -5.2M110.2 358.6l5.2 5.2M110.2 363.8l5.2 -5.2M113.3 358.6l5.2 5.2M113.3 363.8l5.2 -5.2M116.4 358.7l5.2 5.2M116.4 363.9l5.2 -5.2M119.6 358.7l5.2 5.2M119.6 363.9l5.2 -5.2M122.8 358.7l5.2 5.2M122.8 363.9l5.2 -5.2M126.1 358.7l5.2 5.2M126.1 363.9l5.2 -5.2M129.4 358.9l5.2 5.2M129.4 364.1l5.2 -5.2M132.7 359.2l5.2 5.2M132.7 364.4l5.2 -5.2M136.1 359.4l5.2 5.2M136.1 364.6l5.2 -5.2M139.5 359.4l5.2 5.2M139.5 364.6l5.2 -5.2M143.0 359.4l5.2 5.2M143.0 364.6l5.2 -5.2M146.5 359.4l5.2 5.2M146.5 364.6l5.2 -5.2M150.0 359.4l5.2 5.2M150.0 364.6l5.2 -5.2M153.6 359.4l5.2 5.2M153.6 364.6l5.2 -5.2M157.2 359.4l5.2 5.2M157.2 364.6l5.2 -5.2M160.9 359.4l5.2 5.2M160.9 364.6l5.2 -5.2M164.6 359.4l5.2 5.2M164.6 364.6l5.2 -5.2M168.4 359.4l5.2 5.2M168.4 364.6l5.2 -5.2M172.2 359.4l5.2 5.2M172.2 364.6l5.2 -5.2M176.1 359.4l5.2 5.2M176.1 364.6l5.2 -5.2M180.0 359.4l5.2 5.2M180.0 364.6l5.2 -5.2M183.9 359.4l5.2 5.2M183.9 364.6l5.2 -5.2M187.9 359.4l5.2 5.2M187.9 364.6l5.2 -5.2M192.0 359.4l5.2 5.2M192.0 364.6l5.2 -5.2M196.1 359.4l5.2 5.2M196.1 364.6l5.2 -5.2M200.2 359.4l5.2 5.2M200.2 364.6l5.2 -5.2M204.4 359.4l5.2 5.2M204.4 364.6l5.2 -5.2M208.7 359.5l5.2 5.2M208.7 364.7l5.2 -5.2M213.0 359.5l5.2 5.2M213.0 364.7l5.2 -5.2M217.3 359.5l5.2 5.2M217.3 364.7l5.2 -5.2M180.0 343.5l5.2 5.2M180.0 348.7l5.2 -5.2M183.9 347.2l5.2 5.2M183.9 352.4l5.2 -5.2M187.9 350.1l5.2 5.2M187.9 355.3l5.2 -5.2M192.0 351.2l5.2 5.2M192.0 356.4l5.2 -5.2M196.1 351.8l5.2 5.2M196.1 357.0l5.2 -5.2M200.2 352.2l5.2 5.2M200.2 357.4l5.2 -5.2M204.4 352.4l5.2 5.2M204.4 357.6l5.2 -5.2M208.7 352.6l5.2 5.2M208.7 357.8l5.2 -5.2M213.0 352.9l5.2 5.2M213.0 358.1l5.2 -5.2M217.3 353.1l5.2 5.2M217.3 358.3l5.2 -5.2M83.9 378.4l5.2 5.2M83.9 383.6l5.2 -5.2M86.2 372.9l5.2 5.2M86.2 378.1l5.2 -5.2M88.6 367.9l5.2 5.2M88.6 373.1l5.2 -5.2M91.9 363.9l5.2 5.2M91.9 369.1l5.2 -5.2" stroke="#333333" stroke-width="1.0" fill="none"/><path d="M79.5 293.3h8.6M83.8 289.0v8.6M82.3 293.3h8.6M86.6 289.0v8.6M85.0 293.3h8.6M89.3 289.0v8.6M87.8 293.3h8.6M92.1 289.0v8.6M90.7 293.4h8.6M95.0 289.1v8.6M93.6 293.4h8.6M97.9 289.1v8.6M96.5 293.4h8.6M100.8 289.1v8.6M99.4 293.4h8.6M103.7 289.1v8.6M102.4 293.4h8.6M106.7 289.1v8.6M105.4 293.4h8.6M109.7 289.1v8.6M108.5 293.4h8.6M112.8 289.1v8.6M111.6 293.4h8.6M115.9 289.1v8.6M114.7 293.5h8.6M119.0 289.2v8.6M117.9 293.5h8.6M122.2 289.2v8.6M121.1 293.5h8.6M125.4 289.2v8.6M124.4 293.5h8.6M128.7 289.2v8.6M127.7 293.5h8.6M132.0 289.2v8.6M131.0 293.5h8.6M135.3 289.2v8.6M134.4 293.5h8.6M138.7 289.2v8.6M137.8 293.6h8.6M142.1 289.3v8.6M141.3 293.6h8.6M145.6 289.3v8.6M144.8 293.6h8.6M149.1 289.3v8.6M148.3 293.6h8.6M152.6 289.3v8.6M151.9 293.7h8.6M156.2 289.4v8.6M155.5 293.7h8.6M159.8 289.4v8.6M159.2 293.8h8.6M163.5 289.5v8.6M162.9 293.8h8.6M167.2 289.5v8.6M166.7 293.9h8.6M171.0 289.6v8.6M170.5 293.9h8.6M174.8 289.6v8.6M174.4 293.9h8.6M178.7 289.6v8.6M178.3 294.0h8.6M182.6 289.7v8.6M182.2 294.0h8.6M186.5 289.7v8.6M186.2 294.1h8.6M190.5 289.8v8.6M190.3 294.1h8.6M194.6 289.8v8.6M194.4 294.2h8.6M198.7 289.9v8.6M198.5 294.3h8.6M202.8 290.0v8.6M202.7 294.4h8.6M207.0 290.1v8.6M207.0 294.6h8.6M211.3 290.3v8.6M211.3 294.7h8.6M215.6 290.4v8.6M215.6 295.0h8.6M219.9 290.7v8.6M79.5 328.3h8.6M83.8 324.0v8.6M82.3 328.3h8.6M86.6 324.0v8.6M85.0 328.3h8.6M89.3 324.0v8.6M87.8 328.3h8.6M92.1 324.0v8.6M90.7 328.3h8.6M95.0 324.0v8.6M93.6 328.3h8.6M97.9 324.0v8.6M96.5 328.3h8.6M100.8 324.0v8.6M99.4 328.3h8.6M103.7 324.0v8.6M102.4 328.2h8.6M106.7 323.9v8.6M105.4 328.2h8.6M109.7 323.9v8.6M108.5 328.2h8.6M112.8 323.9v8.6M111.6 328.2h8.6M115.9 323.9v8.6M114.7 328.2h8.6M119.0 323.9v8.6M117.9 328.2h8.6M122.2 323.9v8.6M121.1 328.2h8.6M125.4 323.9v8.6M124.4 328.2h8.6M128.7 323.9v8.6M127.7 328.2h8.6M132.0 323.9v8.6M131.0 328.2h8.6M135.3 323.9v8.6M134.4 328.2h8.6M138.7 323.9v8.6M137.8 328.2h8.6M142.1 323.9v8.6M141.3 328.2h8.6M145.6 323.9v8.6M144.8 328.1h8.6M149.1 323.8v8.6M148.3 328.1h8.6M152.6 323.8v8.6M151.9 328.1h8.6M156.2 323.8v8.6M155.5 328.1h8.6M159.8 323.8v8.6M159.2 328.1h8.6M163.5 323.8v8.6M162.9 328.1h8.6M167.2 323.8v8.6M166.7 328.1h8.6M171.0 323.8v8.6M170.5 328.1h8.6M174.8 323.8v8.6M174.4 328.1h8.6M178.7 323.8v8.6M178.3 328.1h8.6M182.6 323.8v8.6M182.2 328.1h8.6M186.5 323.8v8.6M186.2 328.1h8.6M190.5 323.8v8.6M190.3 328.0h8.6M194.6 323.7v8.6M194.4 328.0h8.6M198.7 323.7v8.6M198.5 328.0h8.6M202.8 323.7v8.6M202.7 328.0h8.6M207.0 323.7v8.6M207.0 328.0h8.6M211.3 323.7v8.6M211.3 328.0h8.6M215.6 323.7v8.6M215.6 328.0h8.6M219.9 323.7v8.6M79.5 358.6h8.6M83.8 354.3v8.6M82.3 358.6h8.6M86.6 354.3v8.6M85.0 358.6h8.6M89.3 354.3v8.6M87.8 358.5h8.6M92.1 354.2v8.6M90.7 358.5h8.6M95.0 354.2v8.6M93.6 358.5h8.6M97.9 354.2v8.6M96.5 358.5h8.6M100.8 354.2v8.6M99.4 358.5h8.6M103.7 354.2v8.6M102.4 358.4h8.6M106.7 354.1v8.6M105.4 358.4h8.6M109.7 354.1v8.6M108.5 358.4h8.6M112.8 354.1v8.6M111.6 358.4h8.6M115.9 354.1v8.6M114.7 358.3h8.6M119.0 354.0v8.6M117.9 358.3h8.6M122.2 354.0v8.6M121.1 358.3h8.6M125.4 354.0v8.6M124.4 358.3h8.6M128.7 354.0v8.6M127.7 358.3h8.6M132.0 354.0v8.6M131.0 358.2h8.6M135.3 353.9v8.6M134.4 358.2h8.6M138.7 353.9v8.6M137.8 358.2h8.6M142.1 353.9v8.6M141.3 358.3h8.6M145.6 354.0v8.6M144.8 358.3h8.6M149.1 354.0v8.6M148.3 358.3h8.6M152.6 354.0v8.6M151.9 358.4h8.6M156.2 354.1v8.6M155.5 358.4h8.6M159.8 354.1v8.6M159.2 358.4h8.6M163.5 354.1v8.6M162.9 358.5h8.6M167.2 354.2v8.6M166.7 358.5h8.6M171.0 354.2v8.6M170.5 358.5h8.6M174.8 354.2v8.6M174.4 358.6h8.6M178.7 354.3v8.6M178.3 358.6h8.6M182.6 354.3v8.6M182.2 358.7h8.6M186.5 354.4v8.6M186.2 358.7h8.6M190.5 354.4v8.6M190.3 358.7h8.6M194.6 354.4v8.6M194.4 358.8h8.6M198.7 354.5v8.6M198.5 358.9h8.6M202.8 354.6v8.6M202.7 359.0h8.6M207.0 354.7v8.6M207.0 359.1h8.6M211.3 354.8v8.6M211.3 359.2h8.6M215.6 354.9v8.6M215.6 359.3h8.6M219.9 355.0v8.6M93.6 365.9h8.6M97.9 361.6v8.6M96.5 366.2h8.6M100.8 361.9v8.6M99.4 366.5h8.6M103.7 362.2v8.6M102.4 366.6h8.6M106.7 362.3v8.6M105.4 366.6h8.6M109.7 362.3v8.6M108.5 366.7h8.6M112.8 362.4v8.6M111.6 366.7h8.6M115.9 362.4v8.6M114.7 366.7h8.6M119.0 362.4v8.6M117.9 366.7h8.6M122.2 362.4v8.6M121.1 366.8h8.6M125.4 362.5v8.6M124.4 366.8h8.6M128.7 362.5v8.6M127.7 366.7h8.6M132.0 362.4v8.6M131.0 366.5h8.6M135.3 362.2v8.6M134.4 366.4h8.6M138.7 362.1v8.6M137.8 366.3h8.6M142.1 362.0v8.6M141.3 366.2h8.6M145.6 361.9v8.6M144.8 366.1h8.6M149.1 361.8v8.6M148.3 366.1h8.6M152.6 361.8v8.6M151.9 366.0h8.6M156.2 361.7v8.6M155.5 366.0h8.6M159.8 361.7v8.6M159.2 365.9h8.6M163.5 361.6v8.6M162.9 365.8h8.6M167.2 361.5v8.6M166.7 365.8h8.6M171.0 361.5v8.6M170.5 365.7h8.6M174.8 361.4v8.6M174.4 365.7h8.6M178.7 361.4v8.6M178.3 365.6h8.6M182.6 361.3v8.6M182.2 365.5h8.6M186.5 361.2v8.6M186.2 365.5h8.6M190.5 361.2v8.6M190.3 365.4h8.6M194.6 361.1v8.6M194.4 365.3h8.6M198.7 361.0v8.6M198.5 365.3h8.6M202.8 361.0v8.6M202.7 365.2h8.6M207.0 360.9v8.6M207.0 365.1h8.6M211.3 360.8v8.6M211.3 365.0h8.6M215.6 360.7v8.6M215.6 365.0h8.6M219.9 360.7v8.6M102.4 361.2h8.6M106.7 356.9v8.6M105.4 361.2h8.6M109.7 356.9v8.6M108.5 361.2h8.6M112.8 356.9v8.6M111.6 361.2h8.6M115.9 356.9v8.6M114.7 361.3h8.6M119.0 357.0v8.6M117.9 361.3h8.6M122.2 357.0v8.6M121.1 361.3h8.6M125.4 357.0v8.6M124.4 361.3h8.6M128.7 357.0v8.6M127.7 361.5h8.6M132.0 357.2v8.6M131.0 361.8h8.6M135.3 357.5v8.6M134.4 362.0h8.6M138.7 357.7v8.6M137.8 362.0h8.6M142.1 357.7v8.6M141.3 362.0h8.6M145.6 357.7v8.6M144.8 362.0h8.6M149.1 357.7v8.6M148.3 362.0h8.6M152.6 357.7v8.6M151.9 362.0h8.6M156.2 357.7v8.6M155.5 362.0h8.6M159.8 357.7v8.6M159.2 362.0h8.6M163.5 357.7v8.6M162.9 362.0h8.6M167.2 357.7v8.6M166.7 362.0h8.6M171.0 357.7v8.6M170.5 362.0h8.6M174.8 357.7v8.6M174.4 362.0h8.6M178.7 357.7v8.6M178.3 362.0h8.6M182.6 357.7v8.6M182.2 362.0h8.6M186.5 357.7v8.6M186.2 362.0h8.6M190.5 357.7v8.6M190.3 362.0h8.6M194.6 357.7v8.6M194.4 362.0h8.6M198.7 357.7v8.6M198.5 362.0h8.6M202.8 357.7v8.6M202.7 362.0h8.6M207.0 357.7v8.6M207.0 362.1h8.6M211.3 357.8v8.6M211.3 362.1h8.6M215.6 357.8v8.6M215.6 362.1h8.6M219.9 357.8v8.6M178.3 346.1h8.6M182.6 341.8v8.6M182.2 349.8h8.6M186.5 345.5v8.6M186.2 352.7h8.6M190.5 348.4v8.6M190.3 353.8h8.6M194.6 349.5v8.6M194.4 354.4h8.6M198.7 350.1v8.6M198.5 354.8h8.6M202.8 350.5v8.6M202.7 355.0h8.6M207.0 350.7v8.6M207.0 355.2h8.6M211.3 350.9v8.6M211.3 355.5h8.6M215.6 351.2v8.6M215.6 355.7h8.6M219.9 351.4v8.6M82.2 381.0h8.6M86.5 376.7v8.6M84.5 375.5h8.6M88.8 371.2v8.6M86.9 370.5h8.6M91.2 366.2v8.6M90.2 366.5h8.6M94.5 362.2v8.6" stroke="#333333" stroke-width="1.2" fill="none"/><path d="M81.2 293.3a2.65 2.65 0 1 0 5.3 0a2.65 2.65 0 1 0 -5.3 0M83.9 293.3a2.65 2.65 0 1 0 5.3 0a2.65 2.65 0 1 0 -5.3 0M86.7 293.3a2.65 2.65 0 1 0 5.3 0a2.65 2.65 0 1 0 -5.3 0M89.5 293.3a2.65 2.65 0 1 0 5.3 0a2.65 2.65 0 1 0 -5.3 0M92.3 293.4a2.65 2.65 0 1 0 5.3 0a2.65 2.65 0 1 0 -5.3 0M95.2 293.4a2.65 2.65 0 1 0 5.3 0a2.65 2.65 0 1 0 -5.3 0M98.1 293.4a2.65 2.65 0 1 0 5.3 0a2.65 2.65 0 1 0 -5.3 0M101.1 293.4a2.65 2.65 0 1 0 5.3 0a2.65 2.65 0 1 0 -5.3 0M104.1 293.4a2.65 2.65 0 1 0 5.3 0a2.65 2.65 0 1 0 -5.3 0M107.1 293.4a2.65 2.65 0 1 0 5.3 0a2.65 2.65 0 1 0 -5.3 0M110.2 293.4a2.65 2.65 0 1 0 5.3 0a2.65 2.65 0 1 0 -5.3 0M113.3 293.4a2.65 2.65 0 1 0 5.3 0a2.65 2.65 0 1 0 -5.3 0M116.4 293.5a2.65 2.65 0 1 0 5.3 0a2.65 2.65 0 1 0 -5.3 0M119.6 293.5a2.65 2.65 0 1 0 5.3 0a2.65 2.65 0 1 0 -5.3 0M122.8 293.5a2.65 2.65 0 1 0 5.3 0a2.65 2.65 0 1 0 -5.3 0M126.0 293.5a2.65 2.65 0 1 0 5.3 0a2.65 2.65 0 1 0 -5.3 0M129.3 293.5a2.65 2.65 0 1 0 5.3 0a2.65 2.65 0 1 0 -5.3 0M132.7 293.5a2.65 2.65 0 1 0 5.3 0a2.65 2.65 0 1 0 -5.3 0M136.0 293.5a2.65 2.65 0 1 0 5.3 0a2.65 2.65 0 1 0 -5.3 0M139.5 293.6a2.65 2.65 0 1 0 5.3 0a2.65 2.65 0 1 0 -5.3 0M142.9 293.6a2.65 2.65 0 1 0 5.3 0a2.65 2.65 0 1 0 -5.3 0M146.4 293.6a2.65 2.65 0 1 0 5.3 0a2.65 2.65 0 1 0 -5.3 0M150.0 293.6a2.65 2.65 0 1 0 5.3 0a2.65 2.65 0 1 0 -5.3 0M153.5 293.7a2.65 2.65 0 1 0 5.3 0a2.65 2.65 0 1 0 -5.3 0M157.2 293.7a2.65 2.65 0 1 0 5.3 0a2.65 2.65 0 1 0 -5.3 0M160.9 293.8a2.65 2.65 0 1 0 5.3 0a2.65 2.65 0 1 0 -5.3 0M164.6 293.8a2.65 2.65 0 1 0 5.3 0a2.65 2.65 0 1 0 -5.3 0M168.3 293.9a2.65 2.65 0 1 0 5.3 0a2.65 2.65 0 1 0 -5.3 0M172.2 293.9a2.65 2.65 0 1 0 5.3 0a2.65 2.65 0 1 0 -5.3 0M176.0 293.9a2.65 2.65 0 1 0 5.3 0a2.65 2.65 0 1 0 -5.3 0M179.9 294.0a2.65 2.65 0 1 0 5.3 0a2.65 2.65 0 1 0 -5.3 0M183.9 294.0a2.65 2.65 0 1 0 5.3 0a2.65 2.65 0 1 0 -5.3 0M187.9 294.1a2.65 2.65 0 1 0 5.3 0a2.65 2.65 0 1 0 -5.3 0M191.9 294.1a2.65 2.65 0 1 0 5.3 0a2.65 2.65 0 1 0 -5.3 0M196.0 294.2a2.65 2.65 0 1 0 5.3 0a2.65 2.65 0 1 0 -5.3 0M200.2 294.3a2.65 2.65 0 1 0 5.3 0a2.65 2.65 0 1 0 -5.3 0M204.4 294.4a2.65 2.65 0 1 0 5.3 0a2.65 2.65 0 1 0 -5.3 0M208.6 294.6a2.65 2.65 0 1 0 5.3 0a2.65 2.65 0 1 0 -5.3 0M212.9 294.7a2.65 2.65 0 1 0 5.3 0a2.65 2.65 0 1 0 -5.3 0M217.2 295.0a2.65 2.65 0 1 0 5.3 0a2.65 2.65 0 1 0 -5.3 0M221.5 295.3a2.65 2.65 0 1 0 5.3 0a2.65 2.65 0 1 0 -5.3 0M225.8 295.6a2.65 2.65 0 1 0 5.3 0a2.65 2.65 0 1 0 -5.3 0M229.9 295.9a2.65 2.65 0 1 0 5.3 0a2.65 2.65 0 1 0 -5.3 0M234.2 296.2a2.65 2.65 0 1 0 5.3 0a2.65 2.65 0 1 0 -5.3 0M238.8 296.6a2.65 2.65 0 1 0 5.3 0a2.65 2.65 0 1 0 -5.3 0M243.3 297.1a2.65 2.65 0 1 0 5.3 0a2.65 2.65 0 1 0 -5.3 0M247.8 297.6a2.65 2.65 0 1 0 5.3 0a2.65 2.65 0 1 0 -5.3 0M252.2 298.0a2.65 2.65 0 1 0 5.3 0a2.65 2.65 0 1 0 -5.3 0M257.1 298.6a2.65 2.65 0 1 0 5.3 0a2.65 2.65 0 1 0 -5.3 0M261.8 300.1a2.65 2.65 0 1 0 5.3 0a2.65 2.65 0 1 0 -5.3 0M266.2 301.7a2.65 2.65 0 1 0 5.3 0a2.65 2.65 0 1 0 -5.3 0M271.0 303.3a2.65 2.65 0 1 0 5.3 0a2.65 2.65 0 1 0 -5.3 0M275.9 304.8a2.65 2.65 0 1 0 5.3 0a2.65 2.65 0 1 0 -5.3 0M280.5 306.2a2.65 2.65 0 1 0 5.3 0a2.65 2.65 0 1 0 -5.3 0M285.2 308.6a2.65 2.65 0 1 0 5.3 0a2.65 2.65 0 1 0 -5.3 0M290.0 313.0a2.65 2.65 0 1 0 5.3 0a2.65 2.65 0 1 0 -5.3 0M295.0 318.3a2.65 2.65 0 1 0 5.3 0a2.65 2.65 0 1 0 -5.3 0M299.9 323.3a2.65 2.65 0 1 0 5.3 0a2.65 2.65 0 1 0 -5.3 0M81.2 328.3a2.65 2.65 0 1 0 5.3 0a2.65 2.65 0 1 0 -5.3 0M83.9 328.3a2.65 2.65 0 1 0 5.3 0a2.65 2.65 0 1 0 -5.3 0M86.7 328.3a2.65 2.65 0 1 0 5.3 0a2.65 2.65 0 1 0 -5.3 0M89.5 328.3a2.65 2.65 0 1 0 5.3 0a2.65 2.65 0 1 0 -5.3 0M92.3 328.3a2.65 2.65 0 1 0 5.3 0a2.65 2.65 0 1 0 -5.3 0M95.2 328.3a2.65 2.65 0 1 0 5.3 0a2.65 2.65 0 1 0 -5.3 0M98.1 328.3a2.65 2.65 0 1 0 5.3 0a2.65 2.65 0 1 0 -5.3 0M101.1 328.3a2.65 2.65 0 1 0 5.3 0a2.65 2.65 0 1 0 -5.3 0M104.1 328.2a2.65 2.65 0 1 0 5.3 0a2.65 2.65 0 1 0 -5.3 0M107.1 328.2a2.65 2.65 0 1 0 5.3 0a2.65 2.65 0 1 0 -5.3 0M110.2 328.2a2.65 2.65 0 1 0 5.3 0a2.65 2.65 0 1 0 -5.3 0M113.3 328.2a2.65 2.65 0 1 0 5.3 0a2.65 2.65 0 1 0 -5.3 0M116.4 328.2a2.65 2.65 0 1 0 5.3 0a2.65 2.65 0 1 0 -5.3 0M119.6 328.2a2.65 2.65 0 1 0 5.3 0a2.65 2.65 0 1 0 -5.3 0M122.8 328.2a2.65 2.65 0 1 0 5.3 0a2.65 2.65 0 1 0 -5.3 0M126.0 328.2a2.65 2.65 0 1 0 5.3 0a2.65 2.65 0 1 0 -5.3 0M129.3 328.2a2.65 2.65 0 1 0 5.3 0a2.65 2.65 0 1 0 -5.3 0M132.7 328.2a2.65 2.65 0 1 0 5.3 0a2.65 2.65 0 1 0 -5.3 0M136.0 328.2a2.65 2.65 0 1 0 5.3 0a2.65 2.65 0 1 0 -5.3 0M139.5 328.2a2.65 2.65 0 1 0 5.3 0a2.65 2.65 0 1 0 -5.3 0M142.9 328.2a2.65 2.65 0 1 0 5.3 0a2.65 2.65 0 1 0 -5.3 0M146.4 328.1a2.65 2.65 0 1 0 5.3 0a2.65 2.65 0 1 0 -5.3 0M150.0 328.1a2.65 2.65 0 1 0 5.3 0a2.65 2.65 0 1 0 -5.3 0M153.5 328.1a2.65 2.65 0 1 0 5.3 0a2.65 2.65 0 1 0 -5.3 0M157.2 328.1a2.65 2.65 0 1 0 5.3 0a2.65 2.65 0 1 0 -5.3 0M160.9 328.1a2.65 2.65 0 1 0 5.3 0a2.65 2.65 0 1 0 -5.3 0M164.6 328.1a2.65 2.65 0 1 0 5.3 0a2.65 2.65 0 1 0 -5.3 0M168.3 328.1a2.65 2.65 0 1 0 5.3 0a2.65 2.65 0 1 0 -5.3 0M172.2 328.1a2.65 2.65 0 1 0 5.3 0a2.65 2.65 0 1 0 -5.3 0M176.0 328.1a2.65 2.65 0 1 0 5.3 0a2.65 2.65 0 1 0 -5.3 0M179.9 328.1a2.65 2.65 0 1 0 5.3 0a2.65 2.65 0 1 0 -5.3 0M183.9 328.1a2.65 2.65 0 1 0 5.3 0a2.65 2.65 0 1 0 -5.3 0M187.9 328.1a2.65 2.65 0 1 0 5.3 0a2.65 2.65 0 1 0 -5.3 0M191.9 328.0a2.65 2.65 0 1 0 5.3 0a2.65 2.65 0 1 0 -5.3 0M196.0 328.0a2.65 2.65 0 1 0 5.3 0a2.65 2.65 0 1 0 -5.3 0M200.2 328.0a2.65 2.65 0 1 0 5.3 0a2.65 2.65 0 1 0 -5.3 0M204.4 328.0a2.65 2.65 0 1 0 5.3 0a2.65 2.65 0 1 0 -5.3 0M208.6 328.0a2.65 2.65 0 1 0 5.3 0a2.65 2.65 0 1 0 -5.3 0M212.9 328.0a2.65 2.65 0 1 0 5.3 0a2.65 2.65 0 1 0 -5.3 0M217.2 328.0a2.65 2.65 0 1 0 5.3 0a2.65 2.65 0 1 0 -5.3 0M221.5 328.0a2.65 2.65 0 1 0 5.3 0a2.65 2.65 0 1 0 -5.3 0M225.8 328.0a2.65 2.65 0 1 0 5.3 0a2.65 2.65 0 1 0 -5.3 0M229.9 328.0a2.65 2.65 0 1 0 5.3 0a2.65 2.65 0 1 0 -5.3 0M234.2 327.9a2.65 2.65 0 1 0 5.3 0a2.65 2.65 0 1 0 -5.3 0M238.8 327.9a2.65 2.65 0 1 0 5.3 0a2.65 2.65 0 1 0 -5.3 0M243.3 327.9a2.65 2.65 0 1 0 5.3 0a2.65 2.65 0 1 0 -5.3 0M247.8 327.9a2.65 2.65 0 1 0 5.3 0a2.65 2.65 0 1 0 -5.3 0M252.2 327.9a2.65 2.65 0 1 0 5.3 0a2.65 2.65 0 1 0 -5.3 0M257.1 327.9a2.65 2.65 0 1 0 5.3 0a2.65 2.65 0 1 0 -5.3 0M261.8 327.9a2.65 2.65 0 1 0 5.3 0a2.65 2.65 0 1 0 -5.3 0M266.2 327.9a2.65 2.65 0 1 0 5.3 0a2.65 2.65 0 1 0 -5.3 0M271.0 327.9a2.65 2.65 0 1 0 5.3 0a2.65 2.65 0 1 0 -5.3 0M275.9 327.8a2.65 2.65 0 1 0 5.3 0a2.65 2.65 0 1 0 -5.3 0M280.5 327.8a2.65 2.65 0 1 0 5.3 0a2.65 2.65 0 1 0 -5.3 0M285.2 327.8a2.65 2.65 0 1 0 5.3 0a2.65 2.65 0 1 0 -5.3 0M290.0 327.8a2.65 2.65 0 1 0 5.3 0a2.65 2.65 0 1 0 -5.3 0M295.0 327.8a2.65 2.65 0 1 0 5.3 0a2.65 2.65 0 1 0 -5.3 0M299.9 327.8a2.65 2.65 0 1 0 5.3 0a2.65 2.65 0 1 0 -5.3 0M305.1 327.7a2.65 2.65 0 1 0 5.3 0a2.65 2.65 0 1 0 -5.3 0M309.6 327.6a2.65 2.65 0 1 0 5.3 0a2.65 2.65 0 1 0 -5.3 0M314.7 327.6a2.65 2.65 0 1 0 5.3 0a2.65 2.65 0 1 0 -5.3 0M320.2 327.5a2.65 2.65 0 1 0 5.3 0a2.65 2.65 0 1 0 -5.3 0M325.1 327.4a2.65 2.65 0 1 0 5.3 0a2.65 2.65 0 1 0 -5.3 0M330.7 327.4a2.65 2.65 0 1 0 5.3 0a2.65 2.65 0 1 0 -5.3 0M335.8 327.3a2.65 2.65 0 1 0 5.3 0a2.65 2.65 0 1 0 -5.3 0M341.1 327.2a2.65 2.65 0 1 0 5.3 0a2.65 2.65 0 1 0 -5.3 0M345.9 327.2a2.65 2.65 0 1 0 5.3 0a2.65 2.65 0 1 0 -5.3 0M351.0 327.1a2.65 2.65 0 1 0 5.3 0a2.65 2.65 0 1 0 -5.3 0M356.6 327.0a2.65 2.65 0 1 0 5.3 0a2.65 2.65 0 1 0 -5.3 0M361.9 327.0a2.65 2.65 0 1 0 5.3 0a2.65 2.65 0 1 0 -5.3 0M367.2 327.0a2.65 2.65 0 1 0 5.3 0a2.65 2.65 0 1 0 -5.3 0M372.9 327.0a2.65 2.65 0 1 0 5.3 0a2.65 2.65 0 1 0 -5.3 0M378.4 327.1a2.65 2.65 0 1 0 5.3 0a2.65 2.65 0 1 0 -5.3 0M383.8 327.1a2.65 2.65 0 1 0 5.3 0a2.65 2.65 0 1 0 -5.3 0M389.8 327.1a2.65 2.65 0 1 0 5.3 0a2.65 2.65 0 1 0 -5.3 0M395.6 327.1a2.65 2.65 0 1 0 5.3 0a2.65 2.65 0 1 0 -5.3 0M400.7 327.1a2.65 2.65 0 1 0 5.3 0a2.65 2.65 0 1 0 -5.3 0M406.5 327.1a2.65 2.65 0 1 0 5.3 0a2.65 2.65 0 1 0 -5.3 0M412.2 327.2a2.65 2.65 0 1 0 5.3 0a2.65 2.65 0 1 0 -5.3 0M418.4 327.2a2.65 2.65 0 1 0 5.3 0a2.65 2.65 0 1 0 -5.3 0M423.7 327.2a2.65 2.65 0 1 0 5.3 0a2.65 2.65 0 1 0 -5.3 0M429.8 328.0a2.65 2.65 0 1 0 5.3 0a2.65 2.65 0 1 0 -5.3 0M435.6 330.1a2.65 2.65 0 1 0 5.3 0a2.65 2.65 0 1 0 -5.3 0M441.5 332.1a2.65 2.65 0 1 0 5.3 0a2.65 2.65 0 1 0 -5.3 0M447.5 333.5a2.65 2.65 0 1 0 5.3 0a2.65 2.65 0 1 0 -5.3 0M453.5 334.5a2.65 2.65 0 1 0 5.3 0a2.65 2.65 0 1 0 -5.3 0M459.6 335.3a2.65 2.65 0 1 0 5.3 0a2.65 2.65 0 1 0 -5.3 0M465.7 336.0a2.65 2.65 0 1 0 5.3 0a2.65 2.65 0 1 0 -5.3 0M471.8 336.4a2.65 2.65 0 1 0 5.3 0a2.65 2.65 0 1 0 -5.3 0M477.9 336.8a2.65 2.65 0 1 0 5.3 0a2.65 2.65 0 1 0 -5.3 0M484.2 337.2a2.65 2.65 0 1 0 5.3 0a2.65 2.65 0 1 0 -5.3 0M490.6 337.8a2.65 2.65 0 1 0 5.3 0a2.65 2.65 0 1 0 -5.3 0M496.9 338.4a2.65 2.65 0 1 0 5.3 0a2.65 2.65 0 1 0 -5.3 0M503.2 339.1a2.65 2.65 0 1 0 5.3 0a2.65 2.65 0 1 0 -5.3 0M509.6 339.7a2.65 2.65 0 1 0 5.3 0a2.65 2.65 0 1 0 -5.3 0M516.0 340.2a2.65 2.65 0 1 0 5.3 0a2.65 2.65 0 1 0 -5.3 0M522.6 340.8a2.65 2.65 0 1 0 5.3 0a2.65 2.65 0 1 0 -5.3 0M529.0 341.3a2.65 2.65 0 1 0 5.3 0a2.65 2.65 0 1 0 -5.3 0M535.4 341.8a2.65 2.65 0 1 0 5.3 0a2.65 2.65 0 1 0 -5.3 0M541.6 342.3a2.65 2.65 0 1 0 5.3 0a2.65 2.65 0 1 0 -5.3 0M229.9 300.1a2.65 2.65 0 1 0 5.3 0a2.65 2.65 0 1 0 -5.3 0M234.2 304.5a2.65 2.65 0 1 0 5.3 0a2.65 2.65 0 1 0 -5.3 0M238.8 309.8a2.65 2.65 0 1 0 5.3 0a2.65 2.65 0 1 0 -5.3 0M243.3 313.2a2.65 2.65 0 1 0 5.3 0a2.65 2.65 0 1 0 -5.3 0M247.8 316.0a2.65 2.65 0 1 0 5.3 0a2.65 2.65 0 1 0 -5.3 0M252.2 317.9a2.65 2.65 0 1 0 5.3 0a2.65 2.65 0 1 0 -5.3 0M257.1 320.4a2.65 2.65 0 1 0 5.3 0a2.65 2.65 0 1 0 -5.3 0M261.8 322.4a2.65 2.65 0 1 0 5.3 0a2.65 2.65 0 1 0 -5.3 0M266.2 324.0a2.65 2.65 0 1 0 5.3 0a2.65 2.65 0 1 0 -5.3 0M271.0 325.4a2.65 2.65 0 1 0 5.3 0a2.65 2.65 0 1 0 -5.3 0M275.9 326.6a2.65 2.65 0 1 0 5.3 0a2.65 2.65 0 1 0 -5.3 0M280.5 327.2a2.65 2.65 0 1 0 5.3 0a2.65 2.65 0 1 0 -5.3 0M243.3 334.6a2.65 2.65 0 1 0 5.3 0a2.65 2.65 0 1 0 -5.3 0M247.8 339.3a2.65 2.65 0 1 0 5.3 0a2.65 2.65 0 1 0 -5.3 0M252.2 342.7a2.65 2.65 0 1 0 5.3 0a2.65 2.65 0 1 0 -5.3 0M257.1 345.8a2.65 2.65 0 1 0 5.3 0a2.65 2.65 0 1 0 -5.3 0M261.8 348.2a2.65 2.65 0 1 0 5.3 0a2.65 2.65 0 1 0 -5.3 0M266.2 349.9a2.65 2.65 0 1 0 5.3 0a2.65 2.65 0 1 0 -5.3 0M271.0 351.4a2.65 2.65 0 1 0 5.3 0a2.65 2.65 0 1 0 -5.3 0M275.9 352.6a2.65 2.65 0 1 0 5.3 0a2.65 2.65 0 1 0 -5.3 0M280.5 353.4a2.65 2.65 0 1 0 5.3 0a2.65 2.65 0 1 0 -5.3 0M285.2 354.1a2.65 2.65 0 1 0 5.3 0a2.65 2.65 0 1 0 -5.3 0M290.0 354.7a2.65 2.65 0 1 0 5.3 0a2.65 2.65 0 1 0 -5.3 0M295.0 355.1a2.65 2.65 0 1 0 5.3 0a2.65 2.65 0 1 0 -5.3 0M299.9 355.2a2.65 2.65 0 1 0 5.3 0a2.65 2.65 0 1 0 -5.3 0M305.1 355.2a2.65 2.65 0 1 0 5.3 0a2.65 2.65 0 1 0 -5.3 0M309.6 355.2a2.65 2.65 0 1 0 5.3 0a2.65 2.65 0 1 0 -5.3 0M314.7 355.2a2.65 2.65 0 1 0 5.3 0a2.65 2.65 0 1 0 -5.3 0M320.2 355.2a2.65 2.65 0 1 0 5.3 0a2.65 2.65 0 1 0 -5.3 0M325.1 355.2a2.65 2.65 0 1 0 5.3 0a2.65 2.65 0 1 0 -5.3 0M330.7 355.2a2.65 2.65 0 1 0 5.3 0a2.65 2.65 0 1 0 -5.3 0M335.8 355.5a2.65 2.65 0 1 0 5.3 0a2.65 2.65 0 1 0 -5.3 0M341.1 356.0a2.65 2.65 0 1 0 5.3 0a2.65 2.65 0 1 0 -5.3 0M345.9 356.4a2.65 2.65 0 1 0 5.3 0a2.65 2.65 0 1 0 -5.3 0M351.0 356.9a2.65 2.65 0 1 0 5.3 0a2.65 2.65 0 1 0 -5.3 0M356.6 357.4a2.65 2.65 0 1 0 5.3 0a2.65 2.65 0 1 0 -5.3 0M361.9 357.6a2.65 2.65 0 1 0 5.3 0a2.65 2.65 0 1 0 -5.3 0M367.2 357.6a2.65 2.65 0 1 0 5.3 0a2.65 2.65 0 1 0 -5.3 0M372.9 357.7a2.65 2.65 0 1 0 5.3 0a2.65 2.65 0 1 0 -5.3 0M378.4 357.8a2.65 2.65 0 1 0 5.3 0a2.65 2.65 0 1 0 -5.3 0M383.8 357.9a2.65 2.65 0 1 0 5.3 0a2.65 2.65 0 1 0 -5.3 0M389.8 358.0a2.65 2.65 0 1 0 5.3 0a2.65 2.65 0 1 0 -5.3 0M395.6 358.0a2.65 2.65 0 1 0 5.3 0a2.65 2.65 0 1 0 -5.3 0M400.7 358.1a2.65 2.65 0 1 0 5.3 0a2.65 2.65 0 1 0 -5.3 0M406.5 358.2a2.65 2.65 0 1 0 5.3 0a2.65 2.65 0 1 0 -5.3 0M412.2 358.3a2.65 2.65 0 1 0 5.3 0a2.65 2.65 0 1 0 -5.3 0M418.4 358.4a2.65 2.65 0 1 0 5.3 0a2.65 2.65 0 1 0 -5.3 0M423.7 358.4a2.65 2.65 0 1 0 5.3 0a2.65 2.65 0 1 0 -5.3 0M429.8 358.5a2.65 2.65 0 1 0 5.3 0a2.65 2.65 0 1 0 -5.3 0M435.6 358.5a2.65 2.65 0 1 0 5.3 0a2.65 2.65 0 1 0 -5.3 0M441.5 358.6a2.65 2.65 0 1 0 5.3 0a2.65 2.65 0 1 0 -5.3 0M447.5 358.6a2.65 2.65 0 1 0 5.3 0a2.65 2.65 0 1 0 -5.3 0M453.5 358.6a2.65 2.65 0 1 0 5.3 0a2.65 2.65 0 1 0 -5.3 0M459.6 358.7a2.65 2.65 0 1 0 5.3 0a2.65 2.65 0 1 0 -5.3 0M465.7 358.7a2.65 2.65 0 1 0 5.3 0a2.65 2.65 0 1 0 -5.3 0M471.8 358.7a2.65 2.65 0 1 0 5.3 0a2.65 2.65 0 1 0 -5.3 0M477.9 358.8a2.65 2.65 0 1 0 5.3 0a2.65 2.65 0 1 0 -5.3 0M484.2 358.8a2.65 2.65 0 1 0 5.3 0a2.65 2.65 0 1 0 -5.3 0M490.6 358.8a2.65 2.65 0 1 0 5.3 0a2.65 2.65 0 1 0 -5.3 0M496.9 358.8a2.65 2.65 0 1 0 5.3 0a2.65 2.65 0 1 0 -5.3 0M503.2 358.9a2.65 2.65 0 1 0 5.3 0a2.65 2.65 0 1 0 -5.3 0M509.6 358.9a2.65 2.65 0 1 0 5.3 0a2.65 2.65 0 1 0 -5.3 0M516.0 358.9a2.65 2.65 0 1 0 5.3 0a2.65 2.65 0 1 0 -5.3 0M522.6 358.9a2.65 2.65 0 1 0 5.3 0a2.65 2.65 0 1 0 -5.3 0M529.0 358.9a2.65 2.65 0 1 0 5.3 0a2.65 2.65 0 1 0 -5.3 0M535.4 359.0a2.65 2.65 0 1 0 5.3 0a2.65 2.65 0 1 0 -5.3 0M541.6 359.0a2.65 2.65 0 1 0 5.3 0a2.65 2.65 0 1 0 -5.3 0M295.0 330.0a2.65 2.65 0 1 0 5.3 0a2.65 2.65 0 1 0 -5.3 0M299.9 331.2a2.65 2.65 0 1 0 5.3 0a2.65 2.65 0 1 0 -5.3 0M305.1 332.2a2.65 2.65 0 1 0 5.3 0a2.65 2.65 0 1 0 -5.3 0M309.6 333.1a2.65 2.65 0 1 0 5.3 0a2.65 2.65 0 1 0 -5.3 0M314.7 334.0a2.65 2.65 0 1 0 5.3 0a2.65 2.65 0 1 0 -5.3 0M320.2 334.5a2.65 2.65 0 1 0 5.3 0a2.65 2.65 0 1 0 -5.3 0M325.1 334.9a2.65 2.65 0 1 0 5.3 0a2.65 2.65 0 1 0 -5.3 0M330.7 335.4a2.65 2.65 0 1 0 5.3 0a2.65 2.65 0 1 0 -5.3 0M335.8 335.9a2.65 2.65 0 1 0 5.3 0a2.65 2.65 0 1 0 -5.3 0M341.1 336.7a2.65 2.65 0 1 0 5.3 0a2.65 2.65 0 1 0 -5.3 0M345.9 337.4a2.65 2.65 0 1 0 5.3 0a2.65 2.65 0 1 0 -5.3 0M351.0 338.1a2.65 2.65 0 1 0 5.3 0a2.65 2.65 0 1 0 -5.3 0M356.6 339.0a2.65 2.65 0 1 0 5.3 0a2.65 2.65 0 1 0 -5.3 0M361.9 339.5a2.65 2.65 0 1 0 5.3 0a2.65 2.65 0 1 0 -5.3 0M367.2 339.9a2.65 2.65 0 1 0 5.3 0a2.65 2.65 0 1 0 -5.3 0M372.9 340.3a2.65 2.65 0 1 0 5.3 0a2.65 2.65 0 1 0 -5.3 0M378.4 340.8a2.65 2.65 0 1 0 5.3 0a2.65 2.65 0 1 0 -5.3 0M383.8 341.2a2.65 2.65 0 1 0 5.3 0a2.65 2.65 0 1 0 -5.3 0M389.8 341.6a2.65 2.65 0 1 0 5.3 0a2.65 2.65 0 1 0 -5.3 0M395.6 342.1a2.65 2.65 0 1 0 5.3 0a2.65 2.65 0 1 0 -5.3 0M400.7 342.5a2.65 2.65 0 1 0 5.3 0a2.65 2.65 0 1 0 -5.3 0M406.5 343.0a2.65 2.65 0 1 0 5.3 0a2.65 2.65 0 1 0 -5.3 0M412.2 343.4a2.65 2.65 0 1 0 5.3 0a2.65 2.65 0 1 0 -5.3 0M418.4 343.9a2.65 2.65 0 1 0 5.3 0a2.65 2.65 0 1 0 -5.3 0M423.7 344.3a2.65 2.65 0 1 0 5.3 0a2.65 2.65 0 1 0 -5.3 0M429.8 344.8a2.65 2.65 0 1 0 5.3 0a2.65 2.65 0 1 0 -5.3 0M435.6 345.1a2.65 2.65 0 1 0 5.3 0a2.65 2.65 0 1 0 -5.3 0M441.5 345.5a2.65 2.65 0 1 0 5.3 0a2.65 2.65 0 1 0 -5.3 0M447.5 345.9a2.65 2.65 0 1 0 5.3 0a2.65 2.65 0 1 0 -5.3 0M453.5 346.3a2.65 2.65 0 1 0 5.3 0a2.65 2.65 0 1 0 -5.3 0M459.6 346.7a2.65 2.65 0 1 0 5.3 0a2.65 2.65 0 1 0 -5.3 0M465.7 347.4a2.65 2.65 0 1 0 5.3 0a2.65 2.65 0 1 0 -5.3 0M471.8 348.1a2.65 2.65 0 1 0 5.3 0a2.65 2.65 0 1 0 -5.3 0M477.9 348.8a2.65 2.65 0 1 0 5.3 0a2.65 2.65 0 1 0 -5.3 0M484.2 349.5a2.65 2.65 0 1 0 5.3 0a2.65 2.65 0 1 0 -5.3 0M490.6 349.6a2.65 2.65 0 1 0 5.3 0a2.65 2.65 0 1 0 -5.3 0M496.9 349.8a2.65 2.65 0 1 0 5.3 0a2.65 2.65 0 1 0 -5.3 0M503.2 349.9a2.65 2.65 0 1 0 5.3 0a2.65 2.65 0 1 0 -5.3 0M509.6 350.1a2.65 2.65 0 1 0 5.3 0a2.65 2.65 0 1 0 -5.3 0M516.0 350.3a2.65 2.65 0 1 0 5.3 0a2.65 2.65 0 1 0 -5.3 0M522.6 350.4a2.65 2.65 0 1 0 5.3 0a2.65 2.65 0 1 0 -5.3 0M529.0 350.6a2.65 2.65 0 1 0 5.3 0a2.65 2.65 0 1 0 -5.3 0M535.4 350.7a2.65 2.65 0 1 0 5.3 0a2.65 2.65 0 1 0 -5.3 0M541.6 350.9a2.65 2.65 0 1 0 5.3 0a2.65 2.65 0 1 0 -5.3 0M309.6 334.1a2.65 2.65 0 1 0 5.3 0a2.65 2.65 0 1 0 -5.3 0M314.7 337.0a2.65 2.65 0 1 0 5.3 0a2.65 2.65 0 1 0 -5.3 0M320.2 340.2a2.65 2.65 0 1 0 5.3 0a2.65 2.65 0 1 0 -5.3 0M325.1 341.5a2.65 2.65 0 1 0 5.3 0a2.65 2.65 0 1 0 -5.3 0M330.7 342.8a2.65 2.65 0 1 0 5.3 0a2.65 2.65 0 1 0 -5.3 0M335.8 343.4a2.65 2.65 0 1 0 5.3 0a2.65 2.65 0 1 0 -5.3 0M341.1 344.0a2.65 2.65 0 1 0 5.3 0a2.65 2.65 0 1 0 -5.3 0M345.9 344.8a2.65 2.65 0 1 0 5.3 0a2.65 2.65 0 1 0 -5.3 0M351.0 345.6a2.65 2.65 0 1 0 5.3 0a2.65 2.65 0 1 0 -5.3 0M356.6 346.6a2.65 2.65 0 1 0 5.3 0a2.65 2.65 0 1 0 -5.3 0M361.9 347.0a2.65 2.65 0 1 0 5.3 0a2.65 2.65 0 1 0 -5.3 0M367.2 347.4a2.65 2.65 0 1 0 5.3 0a2.65 2.65 0 1 0 -5.3 0M372.9 347.8a2.65 2.65 0 1 0 5.3 0a2.65 2.65 0 1 0 -5.3 0M378.4 348.2a2.65 2.65 0 1 0 5.3 0a2.65 2.65 0 1 0 -5.3 0M383.8 348.6a2.65 2.65 0 1 0 5.3 0a2.65 2.65 0 1 0 -5.3 0M389.8 349.1a2.65 2.65 0 1 0 5.3 0a2.65 2.65 0 1 0 -5.3 0M395.6 349.5a2.65 2.65 0 1 0 5.3 0a2.65 2.65 0 1 0 -5.3 0M400.7 349.9a2.65 2.65 0 1 0 5.3 0a2.65 2.65 0 1 0 -5.3 0M406.5 350.3a2.65 2.65 0 1 0 5.3 0a2.65 2.65 0 1 0 -5.3 0M412.2 350.7a2.65 2.65 0 1 0 5.3 0a2.65 2.65 0 1 0 -5.3 0M418.4 351.1a2.65 2.65 0 1 0 5.3 0a2.65 2.65 0 1 0 -5.3 0M423.7 351.5a2.65 2.65 0 1 0 5.3 0a2.65 2.65 0 1 0 -5.3 0M429.8 351.9a2.65 2.65 0 1 0 5.3 0a2.65 2.65 0 1 0 -5.3 0M435.6 352.0a2.65 2.65 0 1 0 5.3 0a2.65 2.65 0 1 0 -5.3 0M441.5 352.1a2.65 2.65 0 1 0 5.3 0a2.65 2.65 0 1 0 -5.3 0M447.5 352.3a2.65 2.65 0 1 0 5.3 0a2.65 2.65 0 1 0 -5.3 0M453.5 352.4a2.65 2.65 0 1 0 5.3 0a2.65 2.65 0 1 0 -5.3 0M459.6 352.6a2.65 2.65 0 1 0 5.3 0a2.65 2.65 0 1 0 -5.3 0M465.7 353.0a2.65 2.65 0 1 0 5.3 0a2.65 2.65 0 1 0 -5.3 0M471.8 353.3a2.65 2.65 0 1 0 5.3 0a2.65 2.65 0 1 0 -5.3 0M477.9 353.6a2.65 2.65 0 1 0 5.3 0a2.65 2.65 0 1 0 -5.3 0M484.2 354.0a2.65 2.65 0 1 0 5.3 0a2.65 2.65 0 1 0 -5.3 0M490.6 354.1a2.65 2.65 0 1 0 5.3 0a2.65 2.65 0 1 0 -5.3 0M496.9 354.2a2.65 2.65 0 1 0 5.3 0a2.65 2.65 0 1 0 -5.3 0M503.2 354.3a2.65 2.65 0 1 0 5.3 0a2.65 2.65 0 1 0 -5.3 0M509.6 354.4a2.65 2.65 0 1 0 5.3 0a2.65 2.65 0 1 0 -5.3 0M516.0 354.5a2.65 2.65 0 1 0 5.3 0a2.65 2.65 0 1 0 -5.3 0M522.6 354.6a2.65 2.65 0 1 0 5.3 0a2.65 2.65 0 1 0 -5.3 0M529.0 354.7a2.65 2.65 0 1 0 5.3 0a2.65 2.65 0 1 0 -5.3 0M535.4 354.8a2.65 2.65 0 1 0 5.3 0a2.65 2.65 0 1 0 -5.3 0M541.6 354.9a2.65 2.65 0 1 0 5.3 0a2.65 2.65 0 1 0 -5.3 0M81.2 358.6a2.65 2.65 0 1 0 5.3 0a2.65 2.65 0 1 0 -5.3 0M83.9 358.6a2.65 2.65 0 1 0 5.3 0a2.65 2.65 0 1 0 -5.3 0M86.7 358.6a2.65 2.65 0 1 0 5.3 0a2.65 2.65 0 1 0 -5.3 0M89.5 358.5a2.65 2.65 0 1 0 5.3 0a2.65 2.65 0 1 0 -5.3 0M92.3 358.5a2.65 2.65 0 1 0 5.3 0a2.65 2.65 0 1 0 -5.3 0M95.2 358.5a2.65 2.65 0 1 0 5.3 0a2.65 2.65 0 1 0 -5.3 0M98.1 358.5a2.65 2.65 0 1 0 5.3 0a2.65 2.65 0 1 0 -5.3 0M101.1 358.5a2.65 2.65 0 1 0 5.3 0a2.65 2.65 0 1 0 -5.3 0M104.1 358.4a2.65 2.65 0 1 0 5.3 0a2.65 2.65 0 1 0 -5.3 0M107.1 358.4a2.65 2.65 0 1 0 5.3 0a2.65 2.65 0 1 0 -5.3 0M110.2 358.4a2.65 2.65 0 1 0 5.3 0a2.65 2.65 0 1 0 -5.3 0M113.3 358.4a2.65 2.65 0 1 0 5.3 0a2.65 2.65 0 1 0 -5.3 0M116.4 358.3a2.65 2.65 0 1 0 5.3 0a2.65 2.65 0 1 0 -5.3 0M119.6 358.3a2.65 2.65 0 1 0 5.3 0a2.65 2.65 0 1 0 -5.3 0M122.8 358.3a2.65 2.65 0 1 0 5.3 0a2.65 2.65 0 1 0 -5.3 0M126.0 358.3a2.65 2.65 0 1 0 5.3 0a2.65 2.65 0 1 0 -5.3 0M129.3 358.3a2.65 2.65 0 1 0 5.3 0a2.65 2.65 0 1 0 -5.3 0M132.7 358.2a2.65 2.65 0 1 0 5.3 0a2.65 2.65 0 1 0 -5.3 0M136.0 358.2a2.65 2.65 0 1 0 5.3 0a2.65 2.65 0 1 0 -5.3 0M139.5 358.2a2.65 2.65 0 1 0 5.3 0a2.65 2.65 0 1 0 -5.3 0M142.9 358.3a2.65 2.65 0 1 0 5.3 0a2.65 2.65 0 1 0 -5.3 0M146.4 358.3a2.65 2.65 0 1 0 5.3 0a2.65 2.65 0 1 0 -5.3 0M150.0 358.3a2.65 2.65 0 1 0 5.3 0a2.65 2.65 0 1 0 -5.3 0M153.5 358.4a2.65 2.65 0 1 0 5.3 0a2.65 2.65 0 1 0 -5.3 0M157.2 358.4a2.65 2.65 0 1 0 5.3 0a2.65 2.65 0 1 0 -5.3 0M160.9 358.4a2.65 2.65 0 1 0 5.3 0a2.65 2.65 0 1 0 -5.3 0M164.6 358.5a2.65 2.65 0 1 0 5.3 0a2.65 2.65 0 1 0 -5.3 0M168.3 358.5a2.65 2.65 0 1 0 5.3 0a2.65 2.65 0 1 0 -5.3 0M172.2 358.5a2.65 2.65 0 1 0 5.3 0a2.65 2.65 0 1 0 -5.3 0M176.0 358.6a2.65 2.65 0 1 0 5.3 0a2.65 2.65 0 1 0 -5.3 0M179.9 358.6a2.65 2.65 0 1 0 5.3 0a2.65 2.65 0 1 0 -5.3 0M183.9 358.7a2.65 2.65 0 1 0 5.3 0a2.65 2.65 0 1 0 -5.3 0M187.9 358.7a2.65 2.65 0 1 0 5.3 0a2.65 2.65 0 1 0 -5.3 0M191.9 358.7a2.65 2.65 0 1 0 5.3 0a2.65 2.65 0 1 0 -5.3 0M196.0 358.8a2.65 2.65 0 1 0 5.3 0a2.65 2.65 0 1 0 -5.3 0M200.2 358.9a2.65 2.65 0 1 0 5.3 0a2.65 2.65 0 1 0 -5.3 0M204.4 359.0a2.65 2.65 0 1 0 5.3 0a2.65 2.65 0 1 0 -5.3 0M208.6 359.1a2.65 2.65 0 1 0 5.3 0a2.65 2.65 0 1 0 -5.3 0M212.9 359.2a2.65 2.65 0 1 0 5.3 0a2.65 2.65 0 1 0 -5.3 0M217.2 359.3a2.65 2.65 0 1 0 5.3 0a2.65 2.65 0 1 0 -5.3 0M221.5 359.4a2.65 2.65 0 1 0 5.3 0a2.65 2.65 0 1 0 -5.3 0M225.8 359.5a2.65 2.65 0 1 0 5.3 0a2.65 2.65 0 1 0 -5.3 0M229.9 359.6a2.65 2.65 0 1 0 5.3 0a2.65 2.65 0 1 0 -5.3 0M234.2 359.7a2.65 2.65 0 1 0 5.3 0a2.65 2.65 0 1 0 -5.3 0M238.8 359.8a2.65 2.65 0 1 0 5.3 0a2.65 2.65 0 1 0 -5.3 0M243.3 359.9a2.65 2.65 0 1 0 5.3 0a2.65 2.65 0 1 0 -5.3 0M247.8 359.9a2.65 2.65 0 1 0 5.3 0a2.65 2.65 0 1 0 -5.3 0M252.2 360.0a2.65 2.65 0 1 0 5.3 0a2.65 2.65 0 1 0 -5.3 0M257.1 360.1a2.65 2.65 0 1 0 5.3 0a2.65 2.65 0 1 0 -5.3 0M261.8 360.1a2.65 2.65 0 1 0 5.3 0a2.65 2.65 0 1 0 -5.3 0M266.2 360.2a2.65 2.65 0 1 0 5.3 0a2.65 2.65 0 1 0 -5.3 0M271.0 360.3a2.65 2.65 0 1 0 5.3 0a2.65 2.65 0 1 0 -5.3 0M275.9 360.3a2.65 2.65 0 1 0 5.3 0a2.65 2.65 0 1 0 -5.3 0M280.5 360.4a2.65 2.65 0 1 0 5.3 0a2.65 2.65 0 1 0 -5.3 0M285.2 360.5a2.65 2.65 0 1 0 5.3 0a2.65 2.65 0 1 0 -5.3 0M290.0 360.6a2.65 2.65 0 1 0 5.3 0a2.65 2.65 0 1 0 -5.3 0M295.0 360.8a2.65 2.65 0 1 0 5.3 0a2.65 2.65 0 1 0 -5.3 0M299.9 361.0a2.65 2.65 0 1 0 5.3 0a2.65 2.65 0 1 0 -5.3 0M305.1 361.2a2.65 2.65 0 1 0 5.3 0a2.65 2.65 0 1 0 -5.3 0M309.6 361.3a2.65 2.65 0 1 0 5.3 0a2.65 2.65 0 1 0 -5.3 0M314.7 361.5a2.65 2.65 0 1 0 5.3 0a2.65 2.65 0 1 0 -5.3 0M320.2 361.7a2.65 2.65 0 1 0 5.3 0a2.65 2.65 0 1 0 -5.3 0M325.1 361.9a2.65 2.65 0 1 0 5.3 0a2.65 2.65 0 1 0 -5.3 0M330.7 362.1a2.65 2.65 0 1 0 5.3 0a2.65 2.65 0 1 0 -5.3 0M335.8 362.3a2.65 2.65 0 1 0 5.3 0a2.65 2.65 0 1 0 -5.3 0M341.1 362.5a2.65 2.65 0 1 0 5.3 0a2.65 2.65 0 1 0 -5.3 0M345.9 362.6a2.65 2.65 0 1 0 5.3 0a2.65 2.65 0 1 0 -5.3 0M351.0 362.8a2.65 2.65 0 1 0 5.3 0a2.65 2.65 0 1 0 -5.3 0M356.6 363.0a2.65 2.65 0 1 0 5.3 0a2.65 2.65 0 1 0 -5.3 0M361.9 363.0a2.65 2.65 0 1 0 5.3 0a2.65 2.65 0 1 0 -5.3 0M367.2 363.0a2.65 2.65 0 1 0 5.3 0a2.65 2.65 0 1 0 -5.3 0M372.9 363.0a2.65 2.65 0 1 0 5.3 0a2.65 2.65 0 1 0 -5.3 0M378.4 363.0a2.65 2.65 0 1 0 5.3 0a2.65 2.65 0 1 0 -5.3 0M383.8 363.0a2.65 2.65 0 1 0 5.3 0a2.65 2.65 0 1 0 -5.3 0M389.8 363.0a2.65 2.65 0 1 0 5.3 0a2.65 2.65 0 1 0 -5.3 0M395.6 363.0a2.65 2.65 0 1 0 5.3 0a2.65 2.65 0 1 0 -5.3 0M400.7 363.0a2.65 2.65 0 1 0 5.3 0a2.65 2.65 0 1 0 -5.3 0M406.5 363.0a2.65 2.65 0 1 0 5.3 0a2.65 2.65 0 1 0 -5.3 0M412.2 363.0a2.65 2.65 0 1 0 5.3 0a2.65 2.65 0 1 0 -5.3 0M418.4 363.0a2.65 2.65 0 1 0 5.3 0a2.65 2.65 0 1 0 -5.3 0M423.7 363.0a2.65 2.65 0 1 0 5.3 0a2.65 2.65 0 1 0 -5.3 0M429.8 363.0a2.65 2.65 0 1 0 5.3 0a2.65 2.65 0 1 0 -5.3 0M435.6 363.0a2.65 2.65 0 1 0 5.3 0a2.65 2.65 0 1 0 -5.3 0M441.5 363.0a2.65 2.65 0 1 0 5.3 0a2.65 2.65 0 1 0 -5.3 0M447.5 363.1a2.65 2.65 0 1 0 5.3 0a2.65 2.65 0 1 0 -5.3 0M453.5 363.1a2.65 2.65 0 1 0 5.3 0a2.65 2.65 0 1 0 -5.3 0M459.6 363.1a2.65 2.65 0 1 0 5.3 0a2.65 2.65 0 1 0 -5.3 0M465.7 363.1a2.65 2.65 0 1 0 5.3 0a2.65 2.65 0 1 0 -5.3 0M471.8 363.1a2.65 2.65 0 1 0 5.3 0a2.65 2.65 0 1 0 -5.3 0M477.9 363.1a2.65 2.65 0 1 0 5.3 0a2.65 2.65 0 1 0 -5.3 0M484.2 363.1a2.65 2.65 0 1 0 5.3 0a2.65 2.65 0 1 0 -5.3 0M490.6 363.2a2.65 2.65 0 1 0 5.3 0a2.65 2.65 0 1 0 -5.3 0M496.9 363.2a2.65 2.65 0 1 0 5.3 0a2.65 2.65 0 1 0 -5.3 0M503.2 363.2a2.65 2.65 0 1 0 5.3 0a2.65 2.65 0 1 0 -5.3 0M509.6 363.2a2.65 2.65 0 1 0 5.3 0a2.65 2.65 0 1 0 -5.3 0M516.0 363.2a2.65 2.65 0 1 0 5.3 0a2.65 2.65 0 1 0 -5.3 0M522.6 363.2a2.65 2.65 0 1 0 5.3 0a2.65 2.65 0 1 0 -5.3 0M529.0 363.3a2.65 2.65 0 1 0 5.3 0a2.65 2.65 0 1 0 -5.3 0M535.4 363.3a2.65 2.65 0 1 0 5.3 0a2.65 2.65 0 1 0 -5.3 0M541.6 363.3a2.65 2.65 0 1 0 5.3 0a2.65 2.65 0 1 0 -5.3 0M95.2 365.9a2.65 2.65 0 1 0 5.3 0a2.65 2.65 0 1 0 -5.3 0M98.1 366.2a2.65 2.65 0 1 0 5.3 0a2.65 2.65 0 1 0 -5.3 0M101.1 366.5a2.65 2.65 0 1 0 5.3 0a2.65 2.65 0 1 0 -5.3 0M104.1 366.6a2.65 2.65 0 1 0 5.3 0a2.65 2.65 0 1 0 -5.3 0M107.1 366.6a2.65 2.65 0 1 0 5.3 0a2.65 2.65 0 1 0 -5.3 0M110.2 366.7a2.65 2.65 0 1 0 5.3 0a2.65 2.65 0 1 0 -5.3 0M113.3 366.7a2.65 2.65 0 1 0 5.3 0a2.65 2.65 0 1 0 -5.3 0M116.4 366.7a2.65 2.65 0 1 0 5.3 0a2.65 2.65 0 1 0 -5.3 0M119.6 366.7a2.65 2.65 0 1 0 5.3 0a2.65 2.65 0 1 0 -5.3 0M122.8 366.8a2.65 2.65 0 1 0 5.3 0a2.65 2.65 0 1 0 -5.3 0M126.0 366.8a2.65 2.65 0 1 0 5.3 0a2.65 2.65 0 1 0 -5.3 0M129.3 366.7a2.65 2.65 0 1 0 5.3 0a2.65 2.65 0 1 0 -5.3 0M132.7 366.5a2.65 2.65 0 1 0 5.3 0a2.65 2.65 0 1 0 -5.3 0M136.0 366.4a2.65 2.65 0 1 0 5.3 0a2.65 2.65 0 1 0 -5.3 0M139.5 366.3a2.65 2.65 0 1 0 5.3 0a2.65 2.65 0 1 0 -5.3 0M142.9 366.2a2.65 2.65 0 1 0 5.3 0a2.65 2.65 0 1 0 -5.3 0M146.4 366.1a2.65 2.65 0 1 0 5.3 0a2.65 2.65 0 1 0 -5.3 0M150.0 366.1a2.65 2.65 0 1 0 5.3 0a2.65 2.65 0 1 0 -5.3 0M153.5 366.0a2.65 2.65 0 1 0 5.3 0a2.65 2.65 0 1 0 -5.3 0M157.2 366.0a2.65 2.65 0 1 0 5.3 0a2.65 2.65 0 1 0 -5.3 0M160.9 365.9a2.65 2.65 0 1 0 5.3 0a2.65 2.65 0 1 0 -5.3 0M164.6 365.8a2.65 2.65 0 1 0 5.3 0a2.65 2.65 0 1 0 -5.3 0M168.3 365.8a2.65 2.65 0 1 0 5.3 0a2.65 2.65 0 1 0 -5.3 0M172.2 365.7a2.65 2.65 0 1 0 5.3 0a2.65 2.65 0 1 0 -5.3 0M176.0 365.7a2.65 2.65 0 1 0 5.3 0a2.65 2.65 0 1 0 -5.3 0M179.9 365.6a2.65 2.65 0 1 0 5.3 0a2.65 2.65 0 1 0 -5.3 0M183.9 365.5a2.65 2.65 0 1 0 5.3 0a2.65 2.65 0 1 0 -5.3 0M187.9 365.5a2.65 2.65 0 1 0 5.3 0a2.65 2.65 0 1 0 -5.3 0M191.9 365.4a2.65 2.65 0 1 0 5.3 0a2.65 2.65 0 1 0 -5.3 0M196.0 365.3a2.65 2.65 0 1 0 5.3 0a2.65 2.65 0 1 0 -5.3 0M200.2 365.3a2.65 2.65 0 1 0 5.3 0a2.65 2.65 0 1 0 -5.3 0M204.4 365.2a2.65 2.65 0 1 0 5.3 0a2.65 2.65 0 1 0 -5.3 0M208.6 365.1a2.65 2.65 0 1 0 5.3 0a2.65 2.65 0 1 0 -5.3 0M212.9 365.0a2.65 2.65 0 1 0 5.3 0a2.65 2.65 0 1 0 -5.3 0M217.2 365.0a2.65 2.65 0 1 0 5.3 0a2.65 2.65 0 1 0 -5.3 0M221.5 364.9a2.65 2.65 0 1 0 5.3 0a2.65 2.65 0 1 0 -5.3 0M225.8 364.8a2.65 2.65 0 1 0 5.3 0a2.65 2.65 0 1 0 -5.3 0M229.9 364.7a2.65 2.65 0 1 0 5.3 0a2.65 2.65 0 1 0 -5.3 0M234.2 364.7a2.65 2.65 0 1 0 5.3 0a2.65 2.65 0 1 0 -5.3 0M238.8 364.6a2.65 2.65 0 1 0 5.3 0a2.65 2.65 0 1 0 -5.3 0M243.3 364.5a2.65 2.65 0 1 0 5.3 0a2.65 2.65 0 1 0 -5.3 0M247.8 364.4a2.65 2.65 0 1 0 5.3 0a2.65 2.65 0 1 0 -5.3 0M252.2 364.4a2.65 2.65 0 1 0 5.3 0a2.65 2.65 0 1 0 -5.3 0M257.1 364.3a2.65 2.65 0 1 0 5.3 0a2.65 2.65 0 1 0 -5.3 0M261.8 364.2a2.65 2.65 0 1 0 5.3 0a2.65 2.65 0 1 0 -5.3 0M266.2 364.1a2.65 2.65 0 1 0 5.3 0a2.65 2.65 0 1 0 -5.3 0M271.0 364.1a2.65 2.65 0 1 0 5.3 0a2.65 2.65 0 1 0 -5.3 0M275.9 364.0a2.65 2.65 0 1 0 5.3 0a2.65 2.65 0 1 0 -5.3 0M280.5 363.9a2.65 2.65 0 1 0 5.3 0a2.65 2.65 0 1 0 -5.3 0M285.2 363.8a2.65 2.65 0 1 0 5.3 0a2.65 2.65 0 1 0 -5.3 0M290.0 363.8a2.65 2.65 0 1 0 5.3 0a2.65 2.65 0 1 0 -5.3 0M295.0 363.8a2.65 2.65 0 1 0 5.3 0a2.65 2.65 0 1 0 -5.3 0M299.9 363.8a2.65 2.65 0 1 0 5.3 0a2.65 2.65 0 1 0 -5.3 0M305.1 363.8a2.65 2.65 0 1 0 5.3 0a2.65 2.65 0 1 0 -5.3 0M309.6 363.8a2.65 2.65 0 1 0 5.3 0a2.65 2.65 0 1 0 -5.3 0M314.7 363.8a2.65 2.65 0 1 0 5.3 0a2.65 2.65 0 1 0 -5.3 0M320.2 363.8a2.65 2.65 0 1 0 5.3 0a2.65 2.65 0 1 0 -5.3 0M325.1 363.8a2.65 2.65 0 1 0 5.3 0a2.65 2.65 0 1 0 -5.3 0M330.7 363.8a2.65 2.65 0 1 0 5.3 0a2.65 2.65 0 1 0 -5.3 0M335.8 363.8a2.65 2.65 0 1 0 5.3 0a2.65 2.65 0 1 0 -5.3 0M341.1 363.8a2.65 2.65 0 1 0 5.3 0a2.65 2.65 0 1 0 -5.3 0M345.9 363.8a2.65 2.65 0 1 0 5.3 0a2.65 2.65 0 1 0 -5.3 0M351.0 363.8a2.65 2.65 0 1 0 5.3 0a2.65 2.65 0 1 0 -5.3 0M356.6 363.8a2.65 2.65 0 1 0 5.3 0a2.65 2.65 0 1 0 -5.3 0M361.9 363.8a2.65 2.65 0 1 0 5.3 0a2.65 2.65 0 1 0 -5.3 0M367.2 363.8a2.65 2.65 0 1 0 5.3 0a2.65 2.65 0 1 0 -5.3 0M372.9 363.8a2.65 2.65 0 1 0 5.3 0a2.65 2.65 0 1 0 -5.3 0M378.4 363.8a2.65 2.65 0 1 0 5.3 0a2.65 2.65 0 1 0 -5.3 0M383.8 363.9a2.65 2.65 0 1 0 5.3 0a2.65 2.65 0 1 0 -5.3 0M389.8 363.9a2.65 2.65 0 1 0 5.3 0a2.65 2.65 0 1 0 -5.3 0M395.6 363.9a2.65 2.65 0 1 0 5.3 0a2.65 2.65 0 1 0 -5.3 0M400.7 363.9a2.65 2.65 0 1 0 5.3 0a2.65 2.65 0 1 0 -5.3 0M406.5 363.9a2.65 2.65 0 1 0 5.3 0a2.65 2.65 0 1 0 -5.3 0M412.2 363.9a2.65 2.65 0 1 0 5.3 0a2.65 2.65 0 1 0 -5.3 0M418.4 363.9a2.65 2.65 0 1 0 5.3 0a2.65 2.65 0 1 0 -5.3 0M423.7 363.9a2.65 2.65 0 1 0 5.3 0a2.65 2.65 0 1 0 -5.3 0M429.8 363.9a2.65 2.65 0 1 0 5.3 0a2.65 2.65 0 1 0 -5.3 0M435.6 363.9a2.65 2.65 0 1 0 5.3 0a2.65 2.65 0 1 0 -5.3 0M441.5 363.9a2.65 2.65 0 1 0 5.3 0a2.65 2.65 0 1 0 -5.3 0M447.5 363.9a2.65 2.65 0 1 0 5.3 0a2.65 2.65 0 1 0 -5.3 0M453.5 363.9a2.65 2.65 0 1 0 5.3 0a2.65 2.65 0 1 0 -5.3 0M459.6 363.9a2.65 2.65 0 1 0 5.3 0a2.65 2.65 0 1 0 -5.3 0M465.7 363.9a2.65 2.65 0 1 0 5.3 0a2.65 2.65 0 1 0 -5.3 0M471.8 363.9a2.65 2.65 0 1 0 5.3 0a2.65 2.65 0 1 0 -5.3 0M477.9 363.9a2.65 2.65 0 1 0 5.3 0a2.65 2.65 0 1 0 -5.3 0M484.2 363.9a2.65 2.65 0 1 0 5.3 0a2.65 2.65 0 1 0 -5.3 0M490.6 363.9a2.65 2.65 0 1 0 5.3 0a2.65 2.65 0 1 0 -5.3 0M496.9 364.0a2.65 2.65 0 1 0 5.3 0a2.65 2.65 0 1 0 -5.3 0M503.2 364.0a2.65 2.65 0 1 0 5.3 0a2.65 2.65 0 1 0 -5.3 0M509.6 364.0a2.65 2.65 0 1 0 5.3 0a2.65 2.65 0 1 0 -5.3 0M516.0 364.0a2.65 2.65 0 1 0 5.3 0a2.65 2.65 0 1 0 -5.3 0M522.6 364.0a2.65 2.65 0 1 0 5.3 0a2.65 2.65 0 1 0 -5.3 0M529.0 364.0a2.65 2.65 0 1 0 5.3 0a2.65 2.65 0 1 0 -5.3 0M535.4 364.0a2.65 2.65 0 1 0 5.3 0a2.65 2.65 0 1 0 -5.3 0M541.6 364.0a2.65 2.65 0 1 0 5.3 0a2.65 2.65 0 1 0 -5.3 0M104.1 361.2a2.65 2.65 0 1 0 5.3 0a2.65 2.65 0 1 0 -5.3 0M107.1 361.2a2.65 2.65 0 1 0 5.3 0a2.65 2.65 0 1 0 -5.3 0M110.2 361.2a2.65 2.65 0 1 0 5.3 0a2.65 2.65 0 1 0 -5.3 0M113.3 361.2a2.65 2.65 0 1 0 5.3 0a2.65 2.65 0 1 0 -5.3 0M116.4 361.3a2.65 2.65 0 1 0 5.3 0a2.65 2.65 0 1 0 -5.3 0M119.6 361.3a2.65 2.65 0 1 0 5.3 0a2.65 2.65 0 1 0 -5.3 0M122.8 361.3a2.65 2.65 0 1 0 5.3 0a2.65 2.65 0 1 0 -5.3 0M126.0 361.3a2.65 2.65 0 1 0 5.3 0a2.65 2.65 0 1 0 -5.3 0M129.3 361.5a2.65 2.65 0 1 0 5.3 0a2.65 2.65 0 1 0 -5.3 0M132.7 361.8a2.65 2.65 0 1 0 5.3 0a2.65 2.65 0 1 0 -5.3 0M136.0 362.0a2.65 2.65 0 1 0 5.3 0a2.65 2.65 0 1 0 -5.3 0M139.5 362.0a2.65 2.65 0 1 0 5.3 0a2.65 2.65 0 1 0 -5.3 0M142.9 362.0a2.65 2.65 0 1 0 5.3 0a2.65 2.65 0 1 0 -5.3 0M146.4 362.0a2.65 2.65 0 1 0 5.3 0a2.65 2.65 0 1 0 -5.3 0M150.0 362.0a2.65 2.65 0 1 0 5.3 0a2.65 2.65 0 1 0 -5.3 0M153.5 362.0a2.65 2.65 0 1 0 5.3 0a2.65 2.65 0 1 0 -5.3 0M157.2 362.0a2.65 2.65 0 1 0 5.3 0a2.65 2.65 0 1 0 -5.3 0M160.9 362.0a2.65 2.65 0 1 0 5.3 0a2.65 2.65 0 1 0 -5.3 0M164.6 362.0a2.65 2.65 0 1 0 5.3 0a2.65 2.65 0 1 0 -5.3 0M168.3 362.0a2.65 2.65 0 1 0 5.3 0a2.65 2.65 0 1 0 -5.3 0M172.2 362.0a2.65 2.65 0 1 0 5.3 0a2.65 2.65 0 1 0 -5.3 0M176.0 362.0a2.65 2.65 0 1 0 5.3 0a2.65 2.65 0 1 0 -5.3 0M179.9 362.0a2.65 2.65 0 1 0 5.3 0a2.65 2.65 0 1 0 -5.3 0M183.9 362.0a2.65 2.65 0 1 0 5.3 0a2.65 2.65 0 1 0 -5.3 0M187.9 362.0a2.65 2.65 0 1 0 5.3 0a2.65 2.65 0 1 0 -5.3 0M191.9 362.0a2.65 2.65 0 1 0 5.3 0a2.65 2.65 0 1 0 -5.3 0M196.0 362.0a2.65 2.65 0 1 0 5.3 0a2.65 2.65 0 1 0 -5.3 0M200.2 362.0a2.65 2.65 0 1 0 5.3 0a2.65 2.65 0 1 0 -5.3 0M204.4 362.0a2.65 2.65 0 1 0 5.3 0a2.65 2.65 0 1 0 -5.3 0M208.6 362.1a2.65 2.65 0 1 0 5.3 0a2.65 2.65 0 1 0 -5.3 0M212.9 362.1a2.65 2.65 0 1 0 5.3 0a2.65 2.65 0 1 0 -5.3 0M217.2 362.1a2.65 2.65 0 1 0 5.3 0a2.65 2.65 0 1 0 -5.3 0M221.5 362.1a2.65 2.65 0 1 0 5.3 0a2.65 2.65 0 1 0 -5.3 0M225.8 362.2a2.65 2.65 0 1 0 5.3 0a2.65 2.65 0 1 0 -5.3 0M229.9 362.2a2.65 2.65 0 1 0 5.3 0a2.65 2.65 0 1 0 -5.3 0M179.9 346.1a2.65 2.65 0 1 0 5.3 0a2.65 2.65 0 1 0 -5.3 0M183.9 349.8a2.65 2.65 0 1 0 5.3 0a2.65 2.65 0 1 0 -5.3 0M187.9 352.7a2.65 2.65 0 1 0 5.3 0a2.65 2.65 0 1 0 -5.3 0M191.9 353.8a2.65 2.65 0 1 0 5.3 0a2.65 2.65 0 1 0 -5.3 0M196.0 354.4a2.65 2.65 0 1 0 5.3 0a2.65 2.65 0 1 0 -5.3 0M200.2 354.8a2.65 2.65 0 1 0 5.3 0a2.65 2.65 0 1 0 -5.3 0M204.4 355.0a2.65 2.65 0 1 0 5.3 0a2.65 2.65 0 1 0 -5.3 0M208.6 355.2a2.65 2.65 0 1 0 5.3 0a2.65 2.65 0 1 0 -5.3 0M212.9 355.5a2.65 2.65 0 1 0 5.3 0a2.65 2.65 0 1 0 -5.3 0M217.2 355.7a2.65 2.65 0 1 0 5.3 0a2.65 2.65 0 1 0 -5.3 0M221.5 356.0a2.65 2.65 0 1 0 5.3 0a2.65 2.65 0 1 0 -5.3 0M225.8 356.2a2.65 2.65 0 1 0 5.3 0a2.65 2.65 0 1 0 -5.3 0M229.9 356.4a2.65 2.65 0 1 0 5.3 0a2.65 2.65 0 1 0 -5.3 0M234.2 356.6a2.65 2.65 0 1 0 5.3 0a2.65 2.65 0 1 0 -5.3 0M238.8 356.8a2.65 2.65 0 1 0 5.3 0a2.65 2.65 0 1 0 -5.3 0M243.3 357.0a2.65 2.65 0 1 0 5.3 0a2.65 2.65 0 1 0 -5.3 0M247.8 357.2a2.65 2.65 0 1 0 5.3 0a2.65 2.65 0 1 0 -5.3 0M252.2 357.4a2.65 2.65 0 1 0 5.3 0a2.65 2.65 0 1 0 -5.3 0M257.1 357.6a2.65 2.65 0 1 0 5.3 0a2.65 2.65 0 1 0 -5.3 0M261.8 357.8a2.65 2.65 0 1 0 5.3 0a2.65 2.65 0 1 0 -5.3 0M266.2 358.0a2.65 2.65 0 1 0 5.3 0a2.65 2.65 0 1 0 -5.3 0M271.0 358.2a2.65 2.65 0 1 0 5.3 0a2.65 2.65 0 1 0 -5.3 0M275.9 358.4a2.65 2.65 0 1 0 5.3 0a2.65 2.65 0 1 0 -5.3 0M290.0 257.7a2.65 2.65 0 1 0 5.3 0a2.65 2.65 0 1 0 -5.3 0M295.0 261.2a2.65 2.65 0 1 0 5.3 0a2.65 2.65 0 1 0 -5.3 0M299.9 264.6a2.65 2.65 0 1 0 5.3 0a2.65 2.65 0 1 0 -5.3 0M305.1 267.6a2.65 2.65 0 1 0 5.3 0a2.65 2.65 0 1 0 -5.3 0M309.6 269.6a2.65 2.65 0 1 0 5.3 0a2.65 2.65 0 1 0 -5.3 0M314.7 272.5a2.65 2.65 0 1 0 5.3 0a2.65 2.65 0 1 0 -5.3 0M320.2 275.0a2.65 2.65 0 1 0 5.3 0a2.65 2.65 0 1 0 -5.3 0M325.1 277.3a2.65 2.65 0 1 0 5.3 0a2.65 2.65 0 1 0 -5.3 0M330.7 279.8a2.65 2.65 0 1 0 5.3 0a2.65 2.65 0 1 0 -5.3 0M335.8 282.3a2.65 2.65 0 1 0 5.3 0a2.65 2.65 0 1 0 -5.3 0M341.1 284.9a2.65 2.65 0 1 0 5.3 0a2.65 2.65 0 1 0 -5.3 0M345.9 287.1a2.65 2.65 0 1 0 5.3 0a2.65 2.65 0 1 0 -5.3 0M351.0 288.1a2.65 2.65 0 1 0 5.3 0a2.65 2.65 0 1 0 -5.3 0M356.6 289.6a2.65 2.65 0 1 0 5.3 0a2.65 2.65 0 1 0 -5.3 0M361.9 291.0a2.65 2.65 0 1 0 5.3 0a2.65 2.65 0 1 0 -5.3 0M367.2 292.2a2.65 2.65 0 1 0 5.3 0a2.65 2.65 0 1 0 -5.3 0M372.9 293.9a2.65 2.65 0 1 0 5.3 0a2.65 2.65 0 1 0 -5.3 0M378.4 295.4a2.65 2.65 0 1 0 5.3 0a2.65 2.65 0 1 0 -5.3 0M383.8 297.6a2.65 2.65 0 1 0 5.3 0a2.65 2.65 0 1 0 -5.3 0M389.8 299.1a2.65 2.65 0 1 0 5.3 0a2.65 2.65 0 1 0 -5.3 0M395.6 300.5a2.65 2.65 0 1 0 5.3 0a2.65 2.65 0 1 0 -5.3 0M400.7 302.0a2.65 2.65 0 1 0 5.3 0a2.65 2.65 0 1 0 -5.3 0M406.5 303.0a2.65 2.65 0 1 0 5.3 0a2.65 2.65 0 1 0 -5.3 0M412.2 304.5a2.65 2.65 0 1 0 5.3 0a2.65 2.65 0 1 0 -5.3 0M418.4 312.2a2.65 2.65 0 1 0 5.3 0a2.65 2.65 0 1 0 -5.3 0M423.7 320.0a2.65 2.65 0 1 0 5.3 0a2.65 2.65 0 1 0 -5.3 0M429.8 325.5a2.65 2.65 0 1 0 5.3 0a2.65 2.65 0 1 0 -5.3 0M435.6 329.9a2.65 2.65 0 1 0 5.3 0a2.65 2.65 0 1 0 -5.3 0M441.5 332.5a2.65 2.65 0 1 0 5.3 0a2.65 2.65 0 1 0 -5.3 0M447.5 335.9a2.65 2.65 0 1 0 5.3 0a2.65 2.65 0 1 0 -5.3 0M453.5 337.5a2.65 2.65 0 1 0 5.3 0a2.65 2.65 0 1 0 -5.3 0M459.6 339.0a2.65 2.65 0 1 0 5.3 0a2.65 2.65 0 1 0 -5.3 0M465.7 340.3a2.65 2.65 0 1 0 5.3 0a2.65 2.65 0 1 0 -5.3 0M471.8 342.5a2.65 2.65 0 1 0 5.3 0a2.65 2.65 0 1 0 -5.3 0M477.9 344.6a2.65 2.65 0 1 0 5.3 0a2.65 2.65 0 1 0 -5.3 0M484.2 345.5a2.65 2.65 0 1 0 5.3 0a2.65 2.65 0 1 0 -5.3 0M490.6 346.0a2.65 2.65 0 1 0 5.3 0a2.65 2.65 0 1 0 -5.3 0M496.9 346.6a2.65 2.65 0 1 0 5.3 0a2.65 2.65 0 1 0 -5.3 0M503.2 347.1a2.65 2.65 0 1 0 5.3 0a2.65 2.65 0 1 0 -5.3 0M509.6 347.6a2.65 2.65 0 1 0 5.3 0a2.65 2.65 0 1 0 -5.3 0M516.0 347.9a2.65 2.65 0 1 0 5.3 0a2.65 2.65 0 1 0 -5.3 0M522.6 348.2a2.65 2.65 0 1 0 5.3 0a2.65 2.65 0 1 0 -5.3 0M529.0 348.6a2.65 2.65 0 1 0 5.3 0a2.65 2.65 0 1 0 -5.3 0M535.4 348.9a2.65 2.65 0 1 0 5.3 0a2.65 2.65 0 1 0 -5.3 0M541.6 349.2a2.65 2.65 0 1 0 5.3 0a2.65 2.65 0 1 0 -5.3 0M547.9 349.5a2.65 2.65 0 1 0 5.3 0a2.65 2.65 0 1 0 -5.3 0M320.2 268.0a2.65 2.65 0 1 0 5.3 0a2.65 2.65 0 1 0 -5.3 0M325.1 272.1a2.65 2.65 0 1 0 5.3 0a2.65 2.65 0 1 0 -5.3 0M330.7 275.9a2.65 2.65 0 1 0 5.3 0a2.65 2.65 0 1 0 -5.3 0M335.8 278.4a2.65 2.65 0 1 0 5.3 0a2.65 2.65 0 1 0 -5.3 0M341.1 279.8a2.65 2.65 0 1 0 5.3 0a2.65 2.65 0 1 0 -5.3 0M345.9 280.8a2.65 2.65 0 1 0 5.3 0a2.65 2.65 0 1 0 -5.3 0M351.0 281.7a2.65 2.65 0 1 0 5.3 0a2.65 2.65 0 1 0 -5.3 0M356.6 282.7a2.65 2.65 0 1 0 5.3 0a2.65 2.65 0 1 0 -5.3 0M361.9 283.5a2.65 2.65 0 1 0 5.3 0a2.65 2.65 0 1 0 -5.3 0M367.2 283.2a2.65 2.65 0 1 0 5.3 0a2.65 2.65 0 1 0 -5.3 0M372.9 284.2a2.65 2.65 0 1 0 5.3 0a2.65 2.65 0 1 0 -5.3 0M378.4 284.9a2.65 2.65 0 1 0 5.3 0a2.65 2.65 0 1 0 -5.3 0M378.4 301.7a2.65 2.65 0 1 0 5.3 0a2.65 2.65 0 1 0 -5.3 0M383.8 307.5a2.65 2.65 0 1 0 5.3 0a2.65 2.65 0 1 0 -5.3 0M389.8 312.2a2.65 2.65 0 1 0 5.3 0a2.65 2.65 0 1 0 -5.3 0M395.6 315.7a2.65 2.65 0 1 0 5.3 0a2.65 2.65 0 1 0 -5.3 0M400.7 318.6a2.65 2.65 0 1 0 5.3 0a2.65 2.65 0 1 0 -5.3 0M406.5 321.2a2.65 2.65 0 1 0 5.3 0a2.65 2.65 0 1 0 -5.3 0M412.2 323.4a2.65 2.65 0 1 0 5.3 0a2.65 2.65 0 1 0 -5.3 0M418.4 324.8a2.65 2.65 0 1 0 5.3 0a2.65 2.65 0 1 0 -5.3 0M423.7 326.0a2.65 2.65 0 1 0 5.3 0a2.65 2.65 0 1 0 -5.3 0M429.8 326.8a2.65 2.65 0 1 0 5.3 0a2.65 2.65 0 1 0 -5.3 0M234.2 47.3a2.65 2.65 0 1 0 5.3 0a2.65 2.65 0 1 0 -5.3 0M238.8 119.8a2.65 2.65 0 1 0 5.3 0a2.65 2.65 0 1 0 -5.3 0M243.3 158.0a2.65 2.65 0 1 0 5.3 0a2.65 2.65 0 1 0 -5.3 0M247.8 181.8a2.65 2.65 0 1 0 5.3 0a2.65 2.65 0 1 0 -5.3 0M252.2 199.4a2.65 2.65 0 1 0 5.3 0a2.65 2.65 0 1 0 -5.3 0M257.1 212.1a2.65 2.65 0 1 0 5.3 0a2.65 2.65 0 1 0 -5.3 0M261.8 222.5a2.65 2.65 0 1 0 5.3 0a2.65 2.65 0 1 0 -5.3 0M266.2 231.2a2.65 2.65 0 1 0 5.3 0a2.65 2.65 0 1 0 -5.3 0M271.0 237.8a2.65 2.65 0 1 0 5.3 0a2.65 2.65 0 1 0 -5.3 0M275.9 243.5a2.65 2.65 0 1 0 5.3 0a2.65 2.65 0 1 0 -5.3 0M280.5 248.9a2.65 2.65 0 1 0 5.3 0a2.65 2.65 0 1 0 -5.3 0M285.2 253.3a2.65 2.65 0 1 0 5.3 0a2.65 2.65 0 1 0 -5.3 0M212.9 153.2a2.65 2.65 0 1 0 5.3 0a2.65 2.65 0 1 0 -5.3 0M217.2 246.4a2.65 2.65 0 1 0 5.3 0a2.65 2.65 0 1 0 -5.3 0M221.5 274.6a2.65 2.65 0 1 0 5.3 0a2.65 2.65 0 1 0 -5.3 0M225.8 288.8a2.65 2.65 0 1 0 5.3 0a2.65 2.65 0 1 0 -5.3 0M305.1 199.2a2.65 2.65 0 1 0 5.3 0a2.65 2.65 0 1 0 -5.3 0M309.9 238.0a2.65 2.65 0 1 0 5.3 0a2.65 2.65 0 1 0 -5.3 0M309.9 244.3a2.65 2.65 0 1 0 5.3 0a2.65 2.65 0 1 0 -5.3 0M314.7 259.9a2.65 2.65 0 1 0 5.3 0a2.65 2.65 0 1 0 -5.3 0M361.9 260.2a2.65 2.65 0 1 0 5.3 0a2.65 2.65 0 1 0 -5.3 0M314.5 298.6a2.65 2.65 0 1 0 5.3 0a2.65 2.65 0 1 0 -5.3 0M319.9 316.8a2.65 2.65 0 1 0 5.3 0a2.65 2.65 0 1 0 -5.3 0M173.0 323.4a2.65 2.65 0 1 0 5.3 0a2.65 2.65 0 1 0 -5.3 0M176.9 341.2a2.65 2.65 0 1 0 5.3 0a2.65 2.65 0 1 0 -5.3 0M127.2 346.5a2.65 2.65 0 1 0 5.3 0a2.65 2.65 0 1 0 -5.3 0M130.8 352.3a2.65 2.65 0 1 0 5.3 0a2.65 2.65 0 1 0 -5.3 0M299.7 48.6a2.65 2.65 0 1 0 5.3 0a2.65 2.65 0 1 0 -5.3 0M304.9 83.1a2.65 2.65 0 1 0 5.3 0a2.65 2.65 0 1 0 -5.3 0M309.9 106.3a2.65 2.65 0 1 0 5.3 0a2.65 2.65 0 1 0 -5.3 0M314.6 123.2a2.65 2.65 0 1 0 5.3 0a2.65 2.65 0 1 0 -5.3 0M320.1 135.7a2.65 2.65 0 1 0 5.3 0a2.65 2.65 0 1 0 -5.3 0M324.9 145.1a2.65 2.65 0 1 0 5.3 0a2.65 2.65 0 1 0 -5.3 0M330.0 152.0a2.65 2.65 0 1 0 5.3 0a2.65 2.65 0 1 0 -5.3 0M335.2 157.0a2.65 2.65 0 1 0 5.3 0a2.65 2.65 0 1 0 -5.3 0M340.8 159.5a2.65 2.65 0 1 0 5.3 0a2.65 2.65 0 1 0 -5.3 0M346.2 159.2a2.65 2.65 0 1 0 5.3 0a2.65 2.65 0 1 0 -5.3 0M356.6 116.4a2.65 2.65 0 1 0 5.3 0a2.65 2.65 0 1 0 -5.3 0M158.4 299.1a2.65 2.65 0 1 0 5.3 0a2.65 2.65 0 1 0 -5.3 0M154.7 321.4a2.65 2.65 0 1 0 5.3 0a2.65 2.65 0 1 0 -5.3 0M151.2 331.8a2.65 2.65 0 1 0 5.3 0a2.65 2.65 0 1 0 -5.3 0M147.5 338.6a2.65 2.65 0 1 0 5.3 0a2.65 2.65 0 1 0 -5.3 0M93.8 352.1a2.65 2.65 0 1 0 5.3 0a2.65 2.65 0 1 0 -5.3 0M117.5 345.0a2.65 2.65 0 1 0 5.3 0a2.65 2.65 0 1 0 -5.3 0M114.9 352.6a2.65 2.65 0 1 0 5.3 0a2.65 2.65 0 1 0 -5.3 0M120.8 326.0a2.65 2.65 0 1 0 5.3 0a2.65 2.65 0 1 0 -5.3 0M82.5 384.0a2.65 2.65 0 1 0 5.3 0a2.65 2.65 0 1 0 -5.3 0M83.2 382.1a2.65 2.65 0 1 0 5.3 0a2.65 2.65 0 1 0 -5.3 0M83.9 380.2a2.65 2.65 0 1 0 5.3 0a2.65 2.65 0 1 0 -5.3 0M84.5 378.3a2.65 2.65 0 1 0 5.3 0a2.65 2.65 0 1 0 -5.3 0M85.3 376.5a2.65 2.65 0 1 0 5.3 0a2.65 2.65 0 1 0 -5.3 0M86.2 374.7a2.65 2.65 0 1 0 5.3 0a2.65 2.65 0 1 0 -5.3 0M87.1 372.9a2.65 2.65 0 1 0 5.3 0a2.65 2.65 0 1 0 -5.3 0M88.1 371.2a2.65 2.65 0 1 0 5.3 0a2.65 2.65 0 1 0 -5.3 0M89.1 369.5a2.65 2.65 0 1 0 5.3 0a2.65 2.65 0 1 0 -5.3 0M90.2 367.8a2.65 2.65 0 1 0 5.3 0a2.65 2.65 0 1 0 -5.3 0M91.6 366.4a2.65 2.65 0 1 0 5.3 0a2.65 2.65 0 1 0 -5.3 0M93.1 365.1a2.65 2.65 0 1 0 5.3 0a2.65 2.65 0 1 0 -5.3 0M95.1 364.6a2.65 2.65 0 1 0 5.3 0a2.65 2.65 0 1 0 -5.3 0M97.0 364.5a2.65 2.65 0 1 0 5.3 0a2.65 2.65 0 1 0 -5.3 0M99.0 364.5a2.65 2.65 0 1 0 5.3 0a2.65 2.65 0 1 0 -5.3 0M80.9 384.0a2.65 2.65 0 1 0 5.3 0a2.65 2.65 0 1 0 -5.3 0M81.6 382.1a2.65 2.65 0 1 0 5.3 0a2.65 2.65 0 1 0 -5.3 0M82.2 380.2a2.65 2.65 0 1 0 5.3 0a2.65 2.65 0 1 0 -5.3 0M82.8 378.3a2.65 2.65 0 1 0 5.3 0a2.65 2.65 0 1 0 -5.3 0M83.7 376.5a2.65 2.65 0 1 0 5.3 0a2.65 2.65 0 1 0 -5.3 0M84.5 374.7a2.65 2.65 0 1 0 5.3 0a2.65 2.65 0 1 0 -5.3 0M85.4 372.9a2.65 2.65 0 1 0 5.3 0a2.65 2.65 0 1 0 -5.3 0M86.4 371.1a2.65 2.65 0 1 0 5.3 0a2.65 2.65 0 1 0 -5.3 0M87.4 369.4a2.65 2.65 0 1 0 5.3 0a2.65 2.65 0 1 0 -5.3 0M88.6 367.8a2.65 2.65 0 1 0 5.3 0a2.65 2.65 0 1 0 -5.3 0M89.8 366.2a2.65 2.65 0 1 0 5.3 0a2.65 2.65 0 1 0 -5.3 0M91.2 364.8a2.65 2.65 0 1 0 5.3 0a2.65 2.65 0 1 0 -5.3 0M93.0 363.9a2.65 2.65 0 1 0 5.3 0a2.65 2.65 0 1 0 -5.3 0M94.8 363.2a2.65 2.65 0 1 0 5.3 0a2.65 2.65 0 1 0 -5.3 0M96.8 363.1a2.65 2.65 0 1 0 5.3 0a2.65 2.65 0 1 0 -5.3 0M98.8 363.1a2.65 2.65 0 1 0 5.3 0a2.65 2.65 0 1 0 -5.3 0M238.8 322.8a2.65 2.65 0 1 0 5.3 0a2.65 2.65 0 1 0 -5.3 0" fill="#ee3d3d"/></g><rect x="83" y="12" width="462" height="371" fill="none" stroke="#000" stroke-width="2"/><path d="M76 383.2H83M545 383.2h-7M79.5 336.8H83M545 336.8h-3.5M76 290.3H83M545 290.3h-7M79.5 243.8H83M545 243.8h-3.5M76 197.4H83M545 197.4h-7M79.5 150.9H83M545 150.9h-3.5M76 104.5H83M545 104.5h-7M79.5 58.1H83M545 58.1h-3.5M76 11.6H83M545 11.6h-7M83.0 383v7.8M83.0 12v7M135.8 383v3.5M135.8 12v3.5M188.5 383v7.8M188.5 12v7M241.3 383v3.5M241.3 12v3.5M294.1 383v7.8M294.1 12v7M346.9 383v3.5M346.9 12v3.5M399.6 383v7.8M399.6 12v7M452.4 383v3.5M452.4 12v3.5M505.2 383v7.8M505.2 12v7" stroke="#000" stroke-width="1.6" fill="none"/><g font-family="Liberation Serif, serif" font-weight="bold" font-size="16.2" fill="#000"><text x="74.8" y="17.7" text-anchor="end">20,000</text><text x="74.5" y="110.6" text-anchor="end">15,000</text><text x="74.5" y="203.5" text-anchor="end">10,000</text><text x="73.0" y="296.4" text-anchor="end">5000</text><text x="72.3" y="389.3" text-anchor="end">0</text><text x="83.1" y="408.8" text-anchor="middle">0</text><text x="188.6" y="408.8" text-anchor="middle">20</text><text x="294.2" y="408.8" text-anchor="middle">40</text><text x="399.7" y="408.8" text-anchor="middle">60</text><text x="505.3" y="408.8" text-anchor="middle">80</text></g><text x="314.1" y="438.6" text-anchor="middle" font-family="Liberation Serif, serif" font-weight="bold" font-size="19.3">Frequency thickness product (Hz·m)</text><text transform="translate(19.6 189) rotate(-90)" text-anchor="middle" font-family="Liberation Serif, serif" font-weight="bold" font-size="19.15">Phase velocity (m/s)</text><rect x="351" y="24" width="191" height="47" fill="#fff" stroke="#404040" stroke-width="1.6"/><path d="M367.1 32.0l8.5 8.5M367.1 40.5l8.5 -8.5" stroke="#3a3a3a" stroke-width="1.3" fill="none"/><path d="M366.9 36.3h8.8M371.3 31.9v8.8" stroke="#505050" stroke-width="0.9" fill="none"/><path d="M368.7 58.5a2.6 2.6 0 1 0 5.2 0a2.6 2.6 0 1 0 -5.2 0" fill="#ee3d3d"/><g font-family="Liberation Serif, serif" font-weight="bold" font-size="17.5" letter-spacing="0.07" fill="#000"><text x="389.5" y="42.3">Analytic solutions</text><text x="389.5" y="64.6">Numerical solutions</text></g></svg>
</body></html>
